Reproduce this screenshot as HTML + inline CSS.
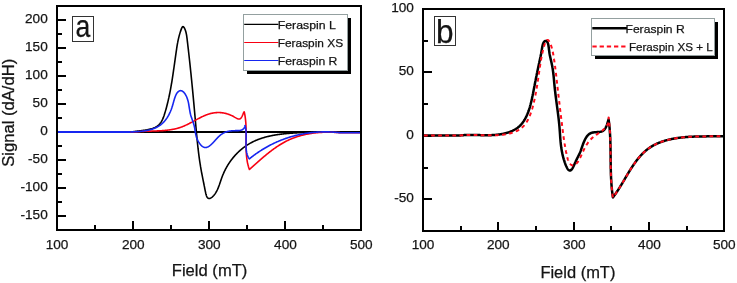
<!DOCTYPE html>
<html><head><meta charset="utf-8"><title>Feraspin EPR spectra</title><style>
html,body{margin:0;padding:0;background:#fff;width:737px;height:283px;overflow:hidden}
svg{display:block}
text{font-family:'Liberation Sans', 'DejaVu Sans', sans-serif;fill:#141414;stroke:#141414;stroke-width:0.25px}
</style></head><body>
<svg width="737" height="283" viewBox="0 0 737 283">
<rect x="0" y="0" width="737" height="283" fill="#fff"/>
<g shape-rendering="crispEdges">
<rect x="132" y="221" width="2" height="8" fill="#000"/>
<rect x="208" y="221" width="2" height="8" fill="#000"/>
<rect x="284" y="221" width="2" height="8" fill="#000"/>
<rect x="94" y="225" width="2" height="4" fill="#000"/>
<rect x="170" y="225" width="2" height="4" fill="#000"/>
<rect x="246" y="225" width="2" height="4" fill="#000"/>
<rect x="322" y="225" width="2" height="4" fill="#000"/>
<rect x="58" y="19" width="8" height="2" fill="#000"/>
<rect x="58" y="47" width="8" height="2" fill="#000"/>
<rect x="58" y="75" width="8" height="2" fill="#000"/>
<rect x="58" y="103" width="8" height="2" fill="#000"/>
<rect x="58" y="131" width="8" height="2" fill="#000"/>
<rect x="58" y="159" width="8" height="2" fill="#000"/>
<rect x="58" y="187" width="8" height="2" fill="#000"/>
<rect x="58" y="215" width="8" height="2" fill="#000"/>
<rect x="58" y="33" width="4" height="2" fill="#000"/>
<rect x="58" y="61" width="4" height="2" fill="#000"/>
<rect x="58" y="89" width="4" height="2" fill="#000"/>
<rect x="58" y="117" width="4" height="2" fill="#000"/>
<rect x="58" y="145" width="4" height="2" fill="#000"/>
<rect x="58" y="173" width="4" height="2" fill="#000"/>
<rect x="58" y="201" width="4" height="2" fill="#000"/>
</g>
<text x="47.74" y="23.10" font-size="13.6" text-anchor="end">200</text>
<text x="47.74" y="51.10" font-size="13.6" text-anchor="end">150</text>
<text x="47.74" y="79.10" font-size="13.6" text-anchor="end">100</text>
<text x="47.74" y="107.10" font-size="13.6" text-anchor="end">50</text>
<text x="47.72" y="135.10" font-size="13.6" text-anchor="end">0</text>
<text x="47.72" y="163.10" font-size="13.6" text-anchor="end">-50</text>
<text x="47.74" y="191.10" font-size="13.6" text-anchor="end">-100</text>
<text x="47.74" y="219.10" font-size="13.6" text-anchor="end">-150</text>
<text x="57.06" y="249.10" font-size="13.6" text-anchor="middle">100</text>
<text x="133.25" y="249.10" font-size="13.6" text-anchor="middle">200</text>
<text x="209.32" y="249.10" font-size="13.6" text-anchor="middle">300</text>
<text x="285.44" y="249.10" font-size="13.6" text-anchor="middle">400</text>
<text x="361.25" y="249.10" font-size="13.6" text-anchor="middle">500</text>
<rect x="58" y="131" width="302" height="2" fill="#000" shape-rendering="crispEdges"/>
<g fill="none" stroke-linejoin="round" stroke-linecap="round" stroke-width="1.6">
<path d="M58.00 132.00 L132.00 132.00 L132.41 131.91 L132.82 131.82 L133.25 131.74 L133.68 131.66 L134.13 131.58 L134.58 131.51 L135.04 131.44 L135.51 131.37 L135.99 131.30 L136.47 131.24 L136.96 131.17 L137.46 131.11 L137.96 131.05 L138.47 130.99 L138.98 130.93 L139.50 130.87 L140.02 130.81 L140.55 130.74 L141.07 130.68 L141.60 130.62 L142.14 130.55 L142.67 130.48 L143.21 130.41 L143.75 130.34 L144.28 130.26 L144.82 130.18 L145.36 130.10 L145.90 130.01 L146.43 129.92 L146.97 129.83 L147.50 129.73 L148.03 129.62 L148.56 129.51 L149.08 129.39 L149.60 129.27 L150.11 129.14 L150.63 129.01 L151.13 128.87 L151.63 128.72 L152.13 128.56 L152.62 128.39 L153.10 128.22 L153.57 128.04 L154.04 127.85 L154.50 127.65 L154.95 127.44 L155.39 127.22 L155.82 126.99 L156.24 126.75 L156.66 126.50 L157.06 126.24 L157.45 125.97 L157.83 125.69 L158.19 125.39 L158.55 125.08 L158.89 124.76 L159.22 124.43 L159.54 124.09 L159.85 123.74 L160.15 123.37 L160.43 123.00 L160.71 122.62 L160.98 122.22 L161.24 121.82 L161.48 121.41 L161.73 121.00 L161.96 120.57 L162.18 120.14 L162.40 119.70 L162.61 119.26 L162.81 118.81 L163.01 118.35 L163.20 117.89 L163.39 117.43 L163.56 116.96 L163.74 116.48 L163.91 116.01 L164.08 115.53 L164.24 115.04 L164.39 114.56 L164.55 114.07 L164.70 113.58 L164.85 113.09 L165.00 112.60 L165.14 112.11 L165.29 111.62 L165.43 111.13 L165.57 110.64 L165.71 110.15 L165.85 109.66 L165.99 109.17 L166.12 108.68 L166.26 108.19 L166.39 107.70 L166.52 107.21 L166.65 106.72 L166.78 106.24 L166.91 105.75 L167.03 105.26 L167.16 104.77 L167.28 104.28 L167.40 103.79 L167.52 103.30 L167.64 102.81 L167.76 102.32 L167.88 101.83 L167.99 101.35 L168.11 100.86 L168.22 100.37 L168.33 99.88 L168.44 99.39 L168.55 98.90 L168.66 98.41 L168.77 97.92 L168.88 97.44 L168.98 96.95 L169.09 96.46 L169.19 95.97 L169.30 95.48 L169.40 94.99 L169.50 94.50 L169.60 94.01 L169.70 93.53 L169.80 93.04 L169.89 92.55 L169.99 92.06 L170.08 91.57 L170.18 91.08 L170.27 90.59 L170.37 90.10 L170.46 89.61 L170.55 89.12 L170.64 88.63 L170.73 88.15 L170.82 87.66 L170.90 87.17 L170.99 86.68 L171.08 86.19 L171.16 85.70 L171.25 85.21 L171.33 84.72 L171.42 84.23 L171.50 83.74 L171.58 83.25 L171.66 82.76 L171.75 82.27 L171.83 81.78 L171.91 81.29 L171.99 80.80 L172.07 80.31 L172.14 79.82 L172.22 79.32 L172.30 78.83 L172.38 78.34 L172.45 77.85 L172.53 77.36 L172.60 76.87 L172.68 76.38 L172.75 75.88 L172.83 75.39 L172.90 74.90 L172.98 74.41 L173.05 73.91 L173.12 73.42 L173.19 72.93 L173.27 72.44 L173.34 71.94 L173.41 71.45 L173.48 70.96 L173.55 70.46 L173.62 69.97 L173.69 69.47 L173.77 68.98 L173.84 68.49 L173.91 67.99 L173.98 67.50 L174.05 67.00 L174.12 66.51 L174.19 66.01 L174.25 65.51 L174.32 65.02 L174.39 64.52 L174.46 64.03 L174.53 63.53 L174.60 63.03 L174.67 62.54 L174.74 62.04 L174.81 61.54 L174.88 61.04 L174.95 60.54 L175.02 60.05 L175.09 59.55 L175.16 59.05 L175.23 58.55 L175.30 58.05 L175.37 57.55 L175.44 57.05 L175.51 56.55 L175.58 56.05 L175.65 55.55 L175.72 55.05 L175.79 54.55 L175.86 54.04 L175.93 53.54 L176.01 53.04 L176.08 52.54 L176.15 52.03 L176.22 51.53 L176.30 51.03 L176.37 50.52 L176.45 50.02 L176.52 49.52 L176.60 49.01 L176.67 48.51 L176.75 48.00 L176.83 47.50 L176.91 46.99 L176.99 46.49 L177.08 45.98 L177.16 45.48 L177.25 44.97 L177.33 44.46 L177.42 43.96 L177.51 43.45 L177.61 42.95 L177.70 42.44 L177.80 41.94 L177.90 41.43 L178.00 40.93 L178.11 40.42 L178.21 39.92 L178.32 39.41 L178.43 38.91 L178.55 38.40 L178.67 37.90 L178.79 37.39 L178.91 36.89 L179.04 36.39 L179.17 35.88 L179.30 35.38 L179.44 34.88 L179.58 34.38 L179.73 33.87 L179.88 33.37 L180.03 32.87 L180.18 32.37 L180.34 31.87 L180.51 31.37 L180.68 30.87 L180.85 30.37 L181.03 29.88 L181.21 29.38 L181.40 28.88 L181.59 28.41 L181.79 27.95 L181.99 27.55 L182.20 27.19 L182.42 26.91 L182.64 26.71 L182.87 26.61 L183.10 26.61 L183.35 26.72 L183.59 26.92 L183.83 27.19 L184.08 27.54 L184.32 27.93 L184.55 28.36 L184.77 28.82 L184.98 29.29 L185.17 29.77 L185.35 30.26 L185.52 30.76 L185.68 31.26 L185.83 31.77 L185.97 32.28 L186.09 32.80 L186.21 33.32 L186.32 33.84 L186.43 34.37 L186.52 34.90 L186.61 35.43 L186.70 35.97 L186.78 36.51 L186.85 37.04 L186.92 37.58 L186.99 38.12 L187.06 38.66 L187.12 39.20 L187.19 39.74 L187.25 40.27 L187.31 40.81 L187.38 41.34 L187.44 41.87 L187.50 42.40 L187.56 42.93 L187.63 43.46 L187.69 43.99 L187.75 44.51 L187.81 45.03 L187.87 45.55 L187.93 46.08 L187.99 46.60 L188.05 47.11 L188.11 47.63 L188.17 48.15 L188.23 48.66 L188.29 49.17 L188.35 49.69 L188.40 50.20 L188.46 50.71 L188.52 51.22 L188.58 51.73 L188.64 52.23 L188.69 52.74 L188.75 53.25 L188.81 53.75 L188.86 54.25 L188.92 54.76 L188.98 55.26 L189.03 55.76 L189.09 56.26 L189.14 56.76 L189.20 57.26 L189.25 57.76 L189.31 58.26 L189.36 58.75 L189.42 59.25 L189.47 59.74 L189.53 60.24 L189.58 60.73 L189.63 61.23 L189.69 61.72 L189.74 62.21 L189.79 62.70 L189.85 63.20 L189.90 63.69 L189.95 64.18 L190.00 64.67 L190.06 65.16 L190.11 65.65 L190.16 66.14 L190.21 66.63 L190.26 67.12 L190.32 67.60 L190.37 68.09 L190.42 68.58 L190.47 69.07 L190.52 69.56 L190.57 70.04 L190.62 70.53 L190.67 71.02 L190.72 71.51 L190.78 71.99 L190.83 72.48 L190.88 72.97 L190.93 73.45 L190.98 73.94 L191.03 74.43 L191.08 74.92 L191.13 75.40 L191.18 75.89 L191.22 76.38 L191.27 76.87 L191.32 77.36 L191.37 77.84 L191.42 78.33 L191.47 78.82 L191.52 79.31 L191.57 79.80 L191.62 80.29 L191.67 80.78 L191.72 81.27 L191.77 81.76 L191.81 82.25 L191.86 82.75 L191.91 83.24 L191.96 83.73 L192.01 84.22 L192.06 84.72 L192.10 85.21 L192.15 85.71 L192.20 86.20 L192.25 86.70 L192.30 87.19 L192.35 87.69 L192.39 88.18 L192.44 88.68 L192.49 89.17 L192.54 89.67 L192.59 90.17 L192.63 90.67 L192.68 91.16 L192.73 91.66 L192.78 92.16 L192.82 92.66 L192.87 93.16 L192.92 93.65 L192.97 94.15 L193.01 94.65 L193.06 95.15 L193.11 95.65 L193.15 96.15 L193.20 96.65 L193.25 97.15 L193.29 97.65 L193.34 98.15 L193.39 98.65 L193.43 99.16 L193.48 99.66 L193.53 100.16 L193.57 100.66 L193.62 101.16 L193.67 101.66 L193.71 102.16 L193.76 102.67 L193.81 103.17 L193.85 103.67 L193.90 104.17 L193.94 104.68 L193.99 105.18 L194.04 105.68 L194.08 106.18 L194.13 106.69 L194.17 107.19 L194.22 107.69 L194.27 108.20 L194.31 108.70 L194.36 109.20 L194.40 109.71 L194.45 110.21 L194.49 110.71 L194.54 111.22 L194.58 111.72 L194.63 112.22 L194.67 112.73 L194.72 113.23 L194.76 113.73 L194.81 114.24 L194.85 114.74 L194.90 115.24 L194.94 115.74 L194.99 116.25 L195.03 116.75 L195.08 117.25 L195.12 117.76 L195.17 118.26 L195.21 118.76 L195.26 119.26 L195.30 119.77 L195.35 120.27 L195.39 120.77 L195.43 121.27 L195.48 121.78 L195.52 122.28 L195.57 122.78 L195.61 123.28 L195.66 123.78 L195.70 124.29 L195.74 124.79 L195.79 125.29 L195.83 125.79 L195.88 126.29 L195.92 126.79 L195.97 127.29 L196.01 127.79 L196.06 128.29 L196.10 128.80 L196.15 129.30 L196.19 129.80 L196.24 130.30 L196.28 130.80 L196.33 131.30 L196.37 131.80 L196.42 132.30 L196.46 132.80 L196.51 133.29 L196.56 133.79 L196.60 134.29 L196.65 134.79 L196.70 135.29 L196.75 135.79 L196.79 136.29 L196.84 136.79 L196.89 137.29 L196.94 137.78 L196.99 138.28 L197.03 138.78 L197.08 139.28 L197.13 139.78 L197.18 140.27 L197.23 140.77 L197.28 141.27 L197.33 141.77 L197.39 142.26 L197.44 142.76 L197.49 143.26 L197.54 143.75 L197.59 144.25 L197.65 144.75 L197.70 145.24 L197.76 145.74 L197.81 146.23 L197.86 146.73 L197.92 147.23 L197.98 147.72 L198.03 148.22 L198.09 148.71 L198.15 149.21 L198.20 149.70 L198.26 150.20 L198.32 150.69 L198.38 151.18 L198.44 151.68 L198.50 152.17 L198.56 152.67 L198.62 153.16 L198.68 153.65 L198.75 154.15 L198.81 154.64 L198.87 155.13 L198.94 155.63 L199.00 156.12 L199.07 156.61 L199.14 157.10 L199.20 157.60 L199.27 158.09 L199.34 158.58 L199.41 159.07 L199.48 159.56 L199.55 160.06 L199.62 160.55 L199.69 161.04 L199.76 161.53 L199.84 162.02 L199.91 162.51 L199.99 163.00 L200.06 163.49 L200.14 163.98 L200.22 164.47 L200.29 164.96 L200.37 165.45 L200.45 165.94 L200.53 166.43 L200.61 166.92 L200.70 167.40 L200.78 167.89 L200.86 168.38 L200.95 168.87 L201.03 169.36 L201.12 169.84 L201.21 170.33 L201.29 170.82 L201.38 171.31 L201.47 171.79 L201.56 172.28 L201.66 172.77 L201.75 173.25 L201.84 173.74 L201.94 174.23 L202.03 174.71 L202.12 175.20 L202.22 175.69 L202.32 176.17 L202.41 176.66 L202.51 177.15 L202.61 177.63 L202.70 178.12 L202.80 178.61 L202.90 179.10 L203.00 179.58 L203.10 180.07 L203.19 180.56 L203.29 181.05 L203.39 181.54 L203.49 182.03 L203.59 182.52 L203.69 183.01 L203.79 183.50 L203.88 183.99 L203.98 184.49 L204.08 184.98 L204.18 185.47 L204.27 185.97 L204.37 186.46 L204.47 186.96 L204.57 187.47 L204.67 187.99 L204.77 188.52 L204.88 189.07 L204.99 189.64 L205.11 190.22 L205.24 190.84 L205.37 191.48 L205.51 192.15 L205.66 192.83 L205.81 193.52 L205.99 194.20 L206.17 194.86 L206.37 195.49 L206.58 196.08 L206.81 196.61 L207.05 197.07 L207.32 197.45 L207.60 197.77 L207.89 198.03 L208.20 198.22 L208.52 198.36 L208.85 198.44 L209.19 198.46 L209.54 198.44 L209.89 198.37 L210.25 198.25 L210.61 198.10 L210.97 197.91 L211.34 197.69 L211.70 197.43 L212.06 197.15 L212.42 196.85 L212.77 196.52 L213.12 196.18 L213.46 195.82 L213.79 195.45 L214.11 195.07 L214.42 194.68 L214.72 194.29 L215.01 193.89 L215.29 193.48 L215.56 193.06 L215.83 192.64 L216.08 192.21 L216.33 191.77 L216.57 191.33 L216.81 190.89 L217.03 190.43 L217.25 189.98 L217.47 189.52 L217.68 189.05 L217.88 188.58 L218.08 188.10 L218.28 187.63 L218.47 187.15 L218.66 186.66 L218.84 186.17 L219.02 185.68 L219.20 185.19 L219.38 184.70 L219.55 184.20 L219.72 183.70 L219.89 183.20 L220.06 182.70 L220.23 182.20 L220.40 181.70 L220.57 181.20 L220.74 180.70 L220.91 180.20 L221.08 179.70 L221.25 179.20 L221.43 178.70 L221.60 178.20 L221.78 177.71 L221.96 177.22 L222.15 176.72 L222.34 176.24 L222.53 175.75 L222.72 175.27 L222.92 174.78 L223.12 174.30 L223.33 173.83 L223.53 173.35 L223.74 172.88 L223.96 172.41 L224.17 171.94 L224.39 171.47 L224.62 171.01 L224.84 170.55 L225.07 170.09 L225.30 169.64 L225.53 169.18 L225.77 168.73 L226.01 168.28 L226.25 167.83 L226.50 167.39 L226.75 166.95 L227.00 166.51 L227.26 166.07 L227.51 165.64 L227.77 165.21 L228.04 164.78 L228.30 164.35 L228.57 163.93 L228.85 163.50 L229.12 163.09 L229.40 162.67 L229.68 162.26 L229.96 161.84 L230.25 161.44 L230.54 161.03 L230.83 160.63 L231.12 160.23 L231.42 159.83 L231.72 159.43 L232.02 159.04 L232.33 158.65 L232.64 158.26 L232.95 157.88 L233.26 157.50 L233.58 157.12 L233.89 156.74 L234.22 156.37 L234.54 156.00 L234.87 155.63 L235.19 155.27 L235.53 154.91 L235.86 154.55 L236.20 154.19 L236.54 153.84 L236.88 153.49 L237.22 153.14 L237.57 152.79 L237.92 152.45 L238.27 152.11 L238.63 151.78 L238.98 151.45 L239.34 151.12 L239.71 150.79 L240.07 150.47 L240.44 150.14 L240.81 149.83 L241.18 149.51 L241.55 149.20 L241.93 148.89 L242.31 148.59 L242.69 148.29 L243.07 147.99 L243.46 147.69 L243.85 147.40 L244.24 147.11 L244.63 146.82 L245.03 146.54 L245.42 146.26 L245.82 145.98 L246.23 145.71 L246.63 145.44 L247.04 145.17 L247.45 144.91 L247.86 144.64 L248.27 144.39 L248.69 144.13 L249.11 143.88 L249.53 143.63 L249.95 143.39 L250.37 143.15 L250.80 142.91 L251.23 142.68 L251.66 142.45 L252.09 142.22 L252.53 142.00 L252.97 141.78 L253.41 141.56 L253.85 141.35 L254.29 141.14 L254.74 140.93 L255.18 140.73 L255.63 140.53 L256.09 140.33 L256.54 140.14 L257.00 139.95 L257.45 139.76 L257.91 139.58 L258.38 139.40 L258.84 139.23 L259.30 139.05 L259.77 138.88 L260.24 138.72 L260.71 138.55 L261.18 138.40 L261.66 138.24 L262.13 138.09 L262.61 137.93 L263.09 137.79 L263.57 137.64 L264.05 137.50 L264.53 137.36 L265.02 137.23 L265.50 137.09 L265.99 136.96 L266.48 136.84 L266.97 136.71 L267.46 136.59 L267.95 136.47 L268.44 136.35 L268.94 136.24 L269.43 136.13 L269.93 136.02 L270.43 135.91 L270.92 135.80 L271.42 135.70 L271.92 135.60 L272.42 135.51 L272.93 135.41 L273.43 135.32 L273.93 135.23 L274.44 135.14 L274.94 135.05 L275.45 134.97 L275.96 134.88 L276.46 134.80 L276.97 134.73 L277.48 134.65 L277.99 134.57 L278.50 134.50 L279.01 134.43 L279.52 134.36 L280.03 134.29 L280.54 134.23 L281.05 134.16 L281.56 134.10 L282.08 134.04 L282.59 133.98 L283.10 133.93 L283.61 133.87 L284.13 133.81 L284.64 133.76 L285.15 133.71 L285.66 133.66 L286.18 133.61 L286.69 133.56 L287.20 133.52 L287.71 133.47 L288.23 133.43 L288.74 133.38 L289.25 133.34 L289.76 133.30 L290.28 133.26 L290.79 133.22 L291.30 133.19 L291.81 133.15 L292.32 133.11 L292.83 133.08 L293.34 133.04 L293.85 133.01 L294.35 132.98 L294.86 132.95 L295.37 132.92 L295.87 132.88 L296.38 132.85 L296.89 132.83 L297.39 132.80 L297.89 132.77 L298.40 132.74 L298.90 132.71 L299.40 132.69 L299.90 132.66 L300.40 132.63 L300.89 132.61 L301.39 132.58 L301.89 132.55 L302.38 132.53 L302.88 132.50 L303.37 132.48 L303.86 132.45 L304.35 132.43 L304.84 132.40 L305.33 132.38 L305.81 132.35 L306.30 132.33 L306.78 132.30 L307.26 132.28 L307.74 132.25 L308.22 132.22 L308.70 132.20 L309.18 132.17 L309.65 132.14 L310.13 132.12 L310.60 132.09 L311.07 132.06 L311.53 132.03 L312.00 132.00 L360.00 132.00" stroke="#000"/>
<path d="M58.00 132.00 L135.00 132.00 L135.49 131.94 L135.98 131.89 L136.48 131.84 L136.97 131.79 L137.46 131.75 L137.96 131.70 L138.45 131.66 L138.95 131.62 L139.45 131.59 L139.95 131.55 L140.44 131.52 L140.94 131.49 L141.44 131.46 L141.94 131.43 L142.44 131.40 L142.94 131.38 L143.45 131.35 L143.95 131.33 L144.45 131.31 L144.95 131.29 L145.46 131.27 L145.96 131.25 L146.46 131.23 L146.97 131.22 L147.47 131.20 L147.98 131.19 L148.48 131.17 L148.99 131.16 L149.49 131.14 L150.00 131.13 L150.51 131.12 L151.01 131.10 L151.52 131.09 L152.03 131.07 L152.53 131.06 L153.04 131.05 L153.55 131.03 L154.05 131.02 L154.56 131.00 L155.07 130.98 L155.57 130.97 L156.08 130.95 L156.58 130.93 L157.09 130.91 L157.60 130.89 L158.10 130.87 L158.61 130.85 L159.12 130.82 L159.62 130.80 L160.13 130.77 L160.63 130.74 L161.14 130.71 L161.64 130.68 L162.15 130.65 L162.65 130.61 L163.15 130.58 L163.66 130.54 L164.16 130.50 L164.66 130.45 L165.16 130.41 L165.66 130.36 L166.16 130.31 L166.67 130.26 L167.16 130.20 L167.66 130.14 L168.16 130.08 L168.66 130.02 L169.16 129.95 L169.66 129.88 L170.15 129.81 L170.65 129.73 L171.14 129.65 L171.64 129.57 L172.13 129.48 L172.62 129.39 L173.11 129.30 L173.60 129.20 L174.09 129.10 L174.58 128.99 L175.07 128.89 L175.56 128.77 L176.04 128.66 L176.53 128.53 L177.01 128.41 L177.50 128.28 L177.98 128.14 L178.46 128.00 L178.94 127.86 L179.42 127.71 L179.90 127.56 L180.38 127.40 L180.85 127.24 L181.33 127.07 L181.80 126.90 L182.27 126.72 L182.74 126.53 L183.21 126.35 L183.68 126.15 L184.15 125.95 L184.62 125.75 L185.08 125.55 L185.55 125.34 L186.01 125.12 L186.47 124.90 L186.94 124.68 L187.40 124.46 L187.86 124.23 L188.32 124.00 L188.78 123.77 L189.24 123.54 L189.69 123.30 L190.15 123.06 L190.61 122.82 L191.06 122.58 L191.52 122.34 L191.97 122.09 L192.43 121.85 L192.88 121.60 L193.33 121.35 L193.79 121.11 L194.24 120.86 L194.69 120.61 L195.15 120.36 L195.60 120.12 L196.05 119.87 L196.50 119.63 L196.96 119.38 L197.41 119.14 L197.86 118.90 L198.31 118.66 L198.77 118.42 L199.22 118.18 L199.67 117.95 L200.12 117.72 L200.58 117.49 L201.03 117.26 L201.48 117.04 L201.94 116.82 L202.39 116.61 L202.85 116.39 L203.30 116.18 L203.76 115.98 L204.21 115.78 L204.67 115.58 L205.13 115.39 L205.59 115.20 L206.05 115.02 L206.50 114.84 L206.96 114.67 L207.43 114.51 L207.89 114.34 L208.35 114.19 L208.81 114.04 L209.28 113.90 L209.74 113.77 L210.21 113.64 L210.68 113.52 L211.15 113.40 L211.61 113.29 L212.08 113.19 L212.56 113.10 L213.03 113.01 L213.50 112.93 L213.97 112.86 L214.45 112.80 L214.92 112.74 L215.40 112.69 L215.87 112.65 L216.35 112.61 L216.83 112.58 L217.31 112.56 L217.78 112.55 L218.26 112.54 L218.74 112.55 L219.22 112.56 L219.70 112.57 L220.18 112.60 L220.66 112.63 L221.14 112.67 L221.62 112.72 L222.10 112.78 L222.58 112.84 L223.06 112.91 L223.54 112.99 L224.02 113.08 L224.50 113.18 L224.98 113.28 L225.46 113.39 L225.94 113.51 L226.42 113.64 L226.90 113.78 L227.38 113.92 L227.86 114.07 L228.34 114.23 L228.81 114.40 L229.29 114.58 L229.77 114.77 L230.24 114.96 L230.72 115.17 L231.19 115.38 L231.67 115.60 L232.14 115.83 L232.61 116.06 L233.09 116.31 L233.56 116.56 L234.03 116.83 L234.50 117.10 L234.96 117.38 L235.43 117.65 L235.89 117.92 L236.35 118.17 L236.80 118.41 L237.24 118.61 L237.68 118.79 L238.11 118.92 L238.53 119.01 L238.94 119.05 L239.34 119.04 L239.72 118.96 L240.10 118.80 L240.46 118.58 L240.80 118.27 L241.13 117.87 L241.44 117.41 L241.74 116.90 L242.03 116.34 L242.31 115.75 L242.57 115.15 L242.83 114.56 L243.07 113.97 L243.31 113.42 L243.54 112.91 L243.77 112.47 L243.98 112.09 L244.20 111.80 L244.31 112.28 L244.42 112.76 L244.52 113.24 L244.62 113.73 L244.72 114.21 L244.81 114.70 L244.90 115.19 L244.98 115.67 L245.06 116.16 L245.14 116.66 L245.21 117.15 L245.28 117.64 L245.34 118.14 L245.40 118.63 L245.46 119.13 L245.52 119.62 L245.57 120.12 L245.62 120.62 L245.66 121.12 L245.71 121.62 L245.75 122.12 L245.79 122.63 L245.82 123.13 L245.85 123.64 L245.88 124.14 L245.91 124.65 L245.94 125.15 L245.96 125.66 L245.98 126.17 L246.00 126.67 L246.02 127.18 L246.03 127.69 L246.04 128.20 L246.06 128.71 L246.07 129.22 L246.08 129.73 L246.08 130.25 L246.09 130.76 L246.09 131.27 L246.10 131.78 L246.10 132.29 L246.10 132.81 L246.10 133.32 L246.10 133.83 L246.10 134.35 L246.10 134.86 L246.09 135.38 L246.09 135.89 L246.09 136.40 L246.08 136.92 L246.08 137.43 L246.08 137.94 L246.07 138.46 L246.07 138.97 L246.06 139.49 L246.06 140.00 L246.06 140.51 L246.05 141.03 L246.05 141.54 L246.05 142.05 L246.05 142.56 L246.05 143.08 L246.05 143.59 L246.05 144.10 L246.05 144.61 L246.05 145.12 L246.05 145.63 L246.06 146.14 L246.07 146.65 L246.07 147.16 L246.08 147.67 L246.09 148.18 L246.11 148.68 L246.12 149.19 L246.14 149.69 L246.15 150.20 L246.17 150.70 L246.20 151.21 L246.22 151.71 L246.25 152.21 L246.28 152.71 L246.31 153.21 L246.34 153.71 L246.38 154.21 L246.41 154.71 L246.46 155.20 L246.50 155.70 L246.55 156.19 L246.60 156.69 L246.65 157.18 L246.71 157.67 L246.77 158.16 L246.83 158.65 L246.90 159.14 L246.97 159.62 L247.04 160.11 L247.12 160.59 L247.20 161.07 L247.28 161.55 L247.37 162.03 L247.47 162.51 L247.56 162.99 L247.66 163.46 L247.77 163.94 L247.88 164.41 L247.99 164.88 L248.11 165.35 L248.24 165.82 L248.36 166.29 L248.50 166.75 L248.63 167.21 L248.78 167.67 L248.92 168.13 L249.08 168.59 L249.24 169.05 L249.40 169.50 L249.77 169.17 L250.14 168.84 L250.51 168.51 L250.88 168.18 L251.25 167.84 L251.63 167.51 L252.00 167.18 L252.37 166.84 L252.74 166.51 L253.12 166.17 L253.49 165.84 L253.86 165.50 L254.24 165.16 L254.61 164.83 L254.99 164.49 L255.36 164.16 L255.74 163.82 L256.12 163.48 L256.49 163.15 L256.87 162.81 L257.25 162.48 L257.63 162.14 L258.01 161.80 L258.39 161.47 L258.77 161.13 L259.15 160.80 L259.53 160.46 L259.91 160.13 L260.29 159.79 L260.68 159.46 L261.06 159.13 L261.44 158.79 L261.83 158.46 L262.21 158.13 L262.60 157.80 L262.99 157.47 L263.37 157.14 L263.76 156.81 L264.15 156.48 L264.54 156.16 L264.93 155.83 L265.32 155.51 L265.71 155.18 L266.11 154.86 L266.50 154.54 L266.89 154.22 L267.29 153.90 L267.68 153.58 L268.08 153.26 L268.48 152.94 L268.87 152.63 L269.27 152.31 L269.67 152.00 L270.07 151.69 L270.47 151.38 L270.88 151.07 L271.28 150.77 L271.68 150.46 L272.09 150.16 L272.49 149.86 L272.90 149.56 L273.31 149.26 L273.72 148.96 L274.13 148.67 L274.54 148.37 L274.95 148.08 L275.36 147.79 L275.77 147.51 L276.19 147.22 L276.61 146.94 L277.02 146.66 L277.44 146.38 L277.86 146.10 L278.28 145.83 L278.70 145.56 L279.12 145.29 L279.54 145.02 L279.97 144.75 L280.39 144.49 L280.82 144.23 L281.25 143.97 L281.68 143.71 L282.11 143.46 L282.54 143.21 L282.97 142.96 L283.40 142.72 L283.84 142.48 L284.27 142.24 L284.71 142.00 L285.15 141.76 L285.59 141.53 L286.03 141.30 L286.47 141.08 L286.92 140.86 L287.36 140.64 L287.81 140.42 L288.26 140.21 L288.70 140.00 L289.16 139.79 L289.61 139.59 L290.06 139.39 L290.51 139.19 L290.97 138.99 L291.43 138.80 L291.88 138.62 L292.34 138.43 L292.80 138.25 L293.26 138.07 L293.73 137.89 L294.19 137.72 L294.66 137.55 L295.12 137.38 L295.59 137.22 L296.06 137.06 L296.53 136.90 L297.00 136.74 L297.47 136.59 L297.94 136.44 L298.42 136.29 L298.89 136.15 L299.37 136.01 L299.84 135.87 L300.32 135.73 L300.80 135.60 L301.28 135.47 L301.76 135.34 L302.24 135.22 L302.73 135.10 L303.21 134.98 L303.69 134.86 L304.18 134.75 L304.66 134.63 L305.15 134.53 L305.64 134.42 L306.13 134.32 L306.62 134.22 L307.11 134.12 L307.60 134.02 L308.09 133.93 L308.58 133.84 L309.08 133.75 L309.57 133.67 L310.07 133.59 L310.56 133.51 L311.06 133.43 L311.55 133.35 L312.05 133.28 L312.55 133.21 L313.05 133.14 L313.55 133.08 L314.05 133.02 L314.55 132.96 L315.05 132.90 L315.55 132.84 L316.05 132.79 L316.55 132.74 L317.06 132.69 L317.56 132.64 L318.06 132.60 L318.57 132.56 L319.07 132.52 L319.58 132.48 L320.09 132.45 L320.59 132.42 L321.10 132.38 L321.61 132.36 L322.11 132.33 L322.62 132.31 L323.13 132.29 L323.64 132.27 L324.15 132.25 L324.66 132.23 L325.17 132.22 L325.68 132.21 L326.19 132.20 L326.70 132.19 L327.21 132.19 L327.72 132.19 L328.23 132.19 L328.74 132.19 L329.25 132.19 L329.76 132.20 L330.27 132.20 L330.78 132.21 L331.30 132.22 L331.81 132.24 L332.32 132.25 L332.83 132.27 L333.34 132.29 L333.86 132.31 L334.37 132.33 L334.88 132.36 L335.39 132.38 L335.90 132.41 L336.42 132.44 L336.93 132.47 L337.44 132.51 L337.95 132.54 L338.46 132.58 L338.98 132.62 L339.49 132.66 L340.00 132.70 L360.00 132.70" stroke="#f80012"/>
<path d="M58.00 132.00 L128.00 132.00 L128.45 131.99 L128.91 131.98 L129.37 131.97 L129.83 131.95 L130.30 131.94 L130.78 131.93 L131.26 131.91 L131.74 131.90 L132.23 131.88 L132.72 131.87 L133.22 131.85 L133.72 131.83 L134.22 131.80 L134.73 131.78 L135.24 131.76 L135.75 131.73 L136.26 131.70 L136.78 131.67 L137.29 131.63 L137.81 131.60 L138.33 131.56 L138.85 131.52 L139.38 131.47 L139.90 131.43 L140.43 131.38 L140.95 131.32 L141.48 131.27 L142.00 131.21 L142.53 131.14 L143.05 131.08 L143.57 131.01 L144.10 130.93 L144.62 130.85 L145.14 130.77 L145.66 130.68 L146.18 130.59 L146.69 130.50 L147.21 130.40 L147.72 130.30 L148.23 130.19 L148.73 130.07 L149.24 129.95 L149.74 129.83 L150.23 129.70 L150.72 129.57 L151.21 129.43 L151.70 129.28 L152.18 129.13 L152.66 128.97 L153.13 128.81 L153.59 128.64 L154.05 128.46 L154.51 128.28 L154.96 128.09 L155.41 127.90 L155.84 127.70 L156.28 127.49 L156.71 127.28 L157.13 127.05 L157.54 126.83 L157.95 126.59 L158.36 126.35 L158.76 126.11 L159.15 125.85 L159.54 125.59 L159.92 125.33 L160.30 125.05 L160.67 124.77 L161.04 124.49 L161.40 124.20 L161.76 123.90 L162.11 123.59 L162.45 123.28 L162.79 122.96 L163.13 122.64 L163.46 122.31 L163.79 121.97 L164.11 121.63 L164.42 121.28 L164.73 120.92 L165.04 120.56 L165.34 120.19 L165.64 119.81 L165.93 119.43 L166.22 119.04 L166.50 118.65 L166.78 118.25 L167.05 117.84 L167.32 117.43 L167.58 117.01 L167.84 116.58 L168.10 116.15 L168.35 115.71 L168.60 115.27 L168.84 114.82 L169.08 114.36 L169.31 113.90 L169.54 113.43 L169.77 112.96 L169.99 112.47 L170.21 111.99 L170.42 111.49 L170.63 110.99 L170.83 110.49 L171.04 109.98 L171.23 109.46 L171.43 108.93 L171.62 108.40 L171.81 107.87 L171.99 107.32 L172.17 106.77 L172.34 106.22 L172.52 105.66 L172.69 105.09 L172.85 104.52 L173.02 103.95 L173.18 103.37 L173.34 102.79 L173.50 102.22 L173.66 101.64 L173.82 101.07 L173.98 100.50 L174.15 99.93 L174.32 99.37 L174.49 98.82 L174.66 98.27 L174.83 97.74 L175.02 97.21 L175.20 96.70 L175.39 96.20 L175.59 95.71 L175.80 95.24 L176.01 94.78 L176.23 94.34 L176.46 93.92 L176.70 93.52 L176.94 93.14 L177.20 92.78 L177.47 92.44 L177.75 92.13 L178.04 91.84 L178.34 91.58 L178.66 91.35 L178.99 91.15 L179.33 90.97 L179.69 90.83 L180.05 90.73 L180.42 90.67 L180.79 90.65 L181.16 90.69 L181.53 90.77 L181.89 90.91 L182.25 91.08 L182.61 91.30 L182.96 91.56 L183.31 91.85 L183.64 92.17 L183.97 92.52 L184.29 92.90 L184.61 93.30 L184.91 93.71 L185.20 94.15 L185.48 94.60 L185.75 95.06 L186.00 95.52 L186.24 95.99 L186.47 96.47 L186.68 96.95 L186.88 97.43 L187.07 97.92 L187.25 98.41 L187.42 98.90 L187.58 99.40 L187.73 99.90 L187.88 100.40 L188.01 100.90 L188.14 101.41 L188.26 101.92 L188.37 102.43 L188.48 102.94 L188.58 103.46 L188.68 103.97 L188.77 104.49 L188.86 105.01 L188.94 105.52 L189.03 106.04 L189.11 106.56 L189.19 107.08 L189.27 107.60 L189.35 108.12 L189.43 108.63 L189.51 109.15 L189.60 109.66 L189.68 110.18 L189.77 110.69 L189.86 111.20 L189.95 111.71 L190.05 112.22 L190.15 112.72 L190.26 113.22 L190.38 113.72 L190.50 114.22 L190.63 114.71 L190.76 115.21 L190.90 115.69 L191.05 116.18 L191.20 116.66 L191.35 117.14 L191.51 117.62 L191.67 118.10 L191.83 118.57 L192.00 119.04 L192.17 119.52 L192.33 119.99 L192.50 120.46 L192.66 120.92 L192.83 121.39 L192.99 121.86 L193.15 122.32 L193.30 122.79 L193.46 123.26 L193.60 123.72 L193.74 124.19 L193.88 124.65 L194.01 125.12 L194.13 125.59 L194.25 126.06 L194.36 126.53 L194.46 127.00 L194.55 127.47 L194.64 127.94 L194.73 128.42 L194.81 128.89 L194.89 129.37 L194.96 129.85 L195.04 130.32 L195.11 130.80 L195.19 131.29 L195.27 131.77 L195.35 132.25 L195.43 132.74 L195.52 133.22 L195.61 133.71 L195.71 134.20 L195.82 134.69 L195.93 135.18 L196.05 135.67 L196.18 136.17 L196.32 136.66 L196.47 137.16 L196.64 137.66 L196.81 138.16 L197.00 138.66 L197.21 139.16 L197.43 139.67 L197.67 140.17 L197.92 140.68 L198.19 141.19 L198.47 141.69 L198.77 142.19 L199.09 142.68 L199.41 143.17 L199.75 143.64 L200.10 144.09 L200.45 144.53 L200.82 144.94 L201.19 145.34 L201.56 145.70 L201.94 146.04 L202.33 146.35 L202.71 146.63 L203.10 146.87 L203.49 147.07 L203.88 147.23 L204.26 147.35 L204.65 147.44 L205.04 147.49 L205.42 147.51 L205.81 147.49 L206.19 147.45 L206.58 147.37 L206.96 147.26 L207.35 147.12 L207.73 146.96 L208.12 146.77 L208.50 146.56 L208.88 146.32 L209.27 146.07 L209.65 145.79 L210.04 145.49 L210.42 145.18 L210.80 144.85 L211.19 144.50 L211.57 144.14 L211.96 143.77 L212.34 143.39 L212.73 143.00 L213.11 142.59 L213.50 142.18 L213.89 141.77 L214.27 141.35 L214.66 140.92 L215.05 140.49 L215.44 140.07 L215.83 139.64 L216.22 139.21 L216.61 138.79 L217.00 138.37 L217.39 137.95 L217.79 137.55 L218.18 137.15 L218.57 136.75 L218.97 136.37 L219.37 136.00 L219.77 135.65 L220.16 135.31 L220.56 134.98 L220.96 134.67 L221.37 134.38 L221.77 134.09 L222.18 133.83 L222.58 133.58 L222.99 133.34 L223.40 133.11 L223.82 132.90 L224.23 132.70 L224.65 132.51 L225.07 132.34 L225.49 132.17 L225.92 132.02 L226.35 131.88 L226.78 131.74 L227.21 131.62 L227.65 131.51 L228.09 131.40 L228.53 131.31 L228.98 131.22 L229.44 131.14 L229.89 131.07 L230.35 131.00 L230.82 130.95 L231.28 130.89 L231.76 130.85 L232.24 130.81 L232.72 130.77 L233.21 130.75 L233.70 130.72 L234.19 130.70 L234.70 130.68 L235.21 130.67 L235.72 130.66 L236.24 130.65 L236.76 130.64 L237.28 130.63 L237.81 130.61 L238.33 130.58 L238.85 130.55 L239.36 130.50 L239.86 130.43 L240.35 130.34 L240.83 130.23 L241.29 130.09 L241.74 129.93 L242.17 129.74 L242.58 129.51 L242.96 129.25 L243.32 128.94 L243.66 128.60 L243.97 128.21 L244.24 127.77 L244.49 127.29 L244.69 126.75 L244.87 126.15 L245.00 125.50 L245.13 125.96 L245.25 126.42 L245.36 126.89 L245.46 127.36 L245.55 127.83 L245.64 128.32 L245.71 128.80 L245.78 129.29 L245.84 129.79 L245.89 130.28 L245.94 130.79 L245.98 131.29 L246.02 131.80 L246.05 132.31 L246.07 132.82 L246.09 133.34 L246.11 133.86 L246.12 134.38 L246.12 134.90 L246.13 135.43 L246.13 135.96 L246.13 136.48 L246.12 137.01 L246.12 137.54 L246.11 138.08 L246.10 138.61 L246.09 139.14 L246.08 139.67 L246.07 140.21 L246.06 140.74 L246.05 141.27 L246.04 141.80 L246.03 142.33 L246.02 142.86 L246.02 143.39 L246.02 143.92 L246.02 144.45 L246.02 144.97 L246.03 145.49 L246.04 146.01 L246.05 146.53 L246.07 147.05 L246.09 147.56 L246.12 148.07 L246.16 148.57 L246.20 149.08 L246.25 149.58 L246.30 150.07 L246.36 150.56 L246.43 151.05 L246.50 151.54 L246.59 152.01 L246.68 152.49 L246.78 152.96 L246.89 153.42 L247.01 153.88 L247.13 154.33 L247.27 154.78 L247.42 155.22 L247.58 155.66 L247.75 156.09 L247.94 156.51 L248.13 156.93 L248.34 157.34 L248.56 157.74 L248.79 158.13 L249.04 158.52 L249.30 158.90 L249.70 158.58 L250.09 158.26 L250.49 157.94 L250.89 157.63 L251.29 157.31 L251.70 157.00 L252.10 156.69 L252.50 156.38 L252.91 156.07 L253.32 155.77 L253.72 155.46 L254.13 155.16 L254.54 154.86 L254.95 154.56 L255.36 154.27 L255.78 153.97 L256.19 153.68 L256.60 153.39 L257.02 153.10 L257.44 152.81 L257.85 152.53 L258.27 152.24 L258.69 151.96 L259.11 151.68 L259.53 151.40 L259.95 151.13 L260.38 150.85 L260.80 150.58 L261.23 150.31 L261.65 150.04 L262.08 149.77 L262.51 149.51 L262.94 149.24 L263.37 148.98 L263.80 148.72 L264.23 148.46 L264.66 148.21 L265.10 147.95 L265.53 147.70 L265.97 147.45 L266.40 147.20 L266.84 146.96 L267.28 146.71 L267.72 146.47 L268.16 146.23 L268.60 145.99 L269.04 145.75 L269.48 145.52 L269.93 145.29 L270.37 145.06 L270.81 144.83 L271.26 144.60 L271.71 144.37 L272.15 144.15 L272.60 143.93 L273.05 143.71 L273.50 143.49 L273.95 143.28 L274.41 143.06 L274.86 142.85 L275.31 142.64 L275.76 142.43 L276.22 142.23 L276.68 142.02 L277.13 141.82 L277.59 141.62 L278.05 141.42 L278.51 141.23 L278.96 141.03 L279.43 140.84 L279.89 140.65 L280.35 140.47 L280.81 140.28 L281.27 140.10 L281.74 139.91 L282.20 139.73 L282.67 139.56 L283.13 139.38 L283.60 139.21 L284.07 139.03 L284.54 138.87 L285.00 138.70 L285.47 138.53 L285.94 138.37 L286.42 138.21 L286.89 138.05 L287.36 137.89 L287.83 137.73 L288.31 137.58 L288.78 137.43 L289.26 137.28 L289.73 137.13 L290.21 136.99 L290.68 136.84 L291.16 136.70 L291.64 136.56 L292.12 136.43 L292.60 136.29 L293.08 136.16 L293.56 136.03 L294.04 135.90 L294.52 135.77 L295.00 135.65 L295.49 135.52 L295.97 135.40 L296.45 135.28 L296.94 135.17 L297.42 135.05 L297.91 134.94 L298.39 134.83 L298.88 134.72 L299.37 134.61 L299.85 134.51 L300.34 134.41 L300.83 134.31 L301.32 134.21 L301.81 134.11 L302.30 134.02 L302.79 133.92 L303.28 133.83 L303.77 133.74 L304.27 133.66 L304.76 133.57 L305.25 133.49 L305.74 133.41 L306.24 133.33 L306.73 133.26 L307.23 133.18 L307.72 133.11 L308.22 133.04 L308.71 132.97 L309.21 132.91 L309.71 132.84 L310.20 132.78 L310.70 132.72 L311.20 132.66 L311.70 132.61 L312.19 132.55 L312.69 132.50 L313.19 132.45 L313.69 132.40 L314.19 132.36 L314.69 132.31 L315.19 132.27 L315.69 132.23 L316.19 132.19 L316.70 132.16 L317.20 132.12 L317.70 132.09 L318.20 132.06 L318.70 132.04 L319.21 132.01 L319.71 131.99 L320.21 131.96 L320.72 131.94 L321.22 131.93 L321.73 131.91 L322.23 131.90 L322.74 131.89 L323.24 131.88 L323.75 131.87 L324.25 131.86 L324.76 131.86 L325.26 131.86 L325.77 131.86 L326.28 131.86 L326.78 131.87 L327.29 131.87 L327.80 131.88 L328.30 131.89 L328.81 131.91 L329.32 131.92 L329.83 131.94 L330.33 131.96 L330.84 131.98 L331.35 132.00 L331.86 132.03 L332.37 132.05 L332.87 132.08 L333.38 132.11 L333.89 132.15 L334.40 132.18 L334.91 132.22 L335.42 132.26 L335.93 132.30 L336.43 132.34 L336.94 132.39 L337.45 132.43 L337.96 132.48 L338.47 132.53 L338.98 132.59 L339.49 132.64 L340.00 132.70 L360.00 132.70" stroke="#1626f0"/>
<rect x="58" y="131" width="72" height="2" fill="#1626f0" shape-rendering="crispEdges"/>
</g>
<g shape-rendering="crispEdges"><rect x="57" y="6" width="304" height="224" fill="none" stroke="#000" stroke-width="2"/></g>
<rect x="72.5" y="16.5" width="21" height="25" fill="#fff" stroke="#333" stroke-width="1" shape-rendering="crispEdges"/>
<g transform="translate(0,0)"><text x="75.49" y="37.40" font-size="31.00" textLength="14.83" lengthAdjust="spacingAndGlyphs">a</text></g>
<rect x="247" y="18" width="104" height="55.5" fill="#000" shape-rendering="crispEdges"/>
<rect x="243.5" y="14.5" width="104.3" height="55.5" fill="#fff" stroke="#94a0a0" stroke-width="1" shape-rendering="crispEdges"/>
<line x1="244.2" y1="24.4" x2="278.4" y2="24.4" stroke="#000" stroke-width="1.15"/>
<line x1="244.2" y1="42.5" x2="278.4" y2="42.5" stroke="#f80012" stroke-width="1.15"/>
<line x1="244.2" y1="60.5" x2="278.4" y2="60.5" stroke="#1626f0" stroke-width="1.15"/>
<text x="277.72" y="28.90" font-size="11.60" textLength="58.15" lengthAdjust="spacingAndGlyphs">Feraspin L</text>
<text x="277.76" y="47.10" font-size="11.60" textLength="65.33" lengthAdjust="spacingAndGlyphs">Feraspin XS</text>
<text x="277.73" y="65.10" font-size="11.60" textLength="59.66" lengthAdjust="spacingAndGlyphs">Feraspin R</text>
<text x="171.80" y="275.70" font-size="16.00" textLength="75.57" lengthAdjust="spacingAndGlyphs">Field (mT)</text>
<text transform="translate(14.4,166.78) rotate(-90)" x="0" y="0" font-size="16" textLength="108.00" lengthAdjust="spacingAndGlyphs">Signal (dA/dH)</text>
<g shape-rendering="crispEdges">
<rect x="497" y="222" width="2" height="8" fill="#000"/>
<rect x="573" y="222" width="2" height="8" fill="#000"/>
<rect x="648" y="222" width="2" height="8" fill="#000"/>
<rect x="460" y="226" width="2" height="4" fill="#000"/>
<rect x="535" y="226" width="2" height="4" fill="#000"/>
<rect x="610" y="226" width="2" height="4" fill="#000"/>
<rect x="686" y="226" width="2" height="4" fill="#000"/>
<rect x="424" y="71" width="8" height="2" fill="#000"/>
<rect x="424" y="135" width="8" height="2" fill="#000"/>
<rect x="424" y="198" width="8" height="2" fill="#000"/>
<rect x="424" y="40" width="4" height="2" fill="#000"/>
<rect x="424" y="103" width="4" height="2" fill="#000"/>
<rect x="424" y="167" width="4" height="2" fill="#000"/>
</g>
<text x="413.84" y="12.00" font-size="13.6" text-anchor="end">100</text>
<text x="413.84" y="75.40" font-size="13.6" text-anchor="end">50</text>
<text x="413.82" y="138.90" font-size="13.6" text-anchor="end">0</text>
<text x="413.82" y="202.20" font-size="13.6" text-anchor="end">-50</text>
<text x="423.06" y="249.40" font-size="13.6" text-anchor="middle">100</text>
<text x="498.25" y="249.40" font-size="13.6" text-anchor="middle">200</text>
<text x="574.32" y="249.40" font-size="13.6" text-anchor="middle">300</text>
<text x="649.44" y="249.40" font-size="13.6" text-anchor="middle">400</text>
<text x="724.25" y="249.40" font-size="13.6" text-anchor="middle">500</text>
<g fill="none" stroke-linejoin="round">
<path d="M424.00 135.60 L460.00 135.50 L460.53 135.44 L461.05 135.38 L461.57 135.33 L462.09 135.28 L462.61 135.23 L463.12 135.19 L463.64 135.15 L464.15 135.12 L464.66 135.08 L465.17 135.06 L465.67 135.03 L466.18 135.01 L466.68 134.99 L467.18 134.97 L467.68 134.96 L468.18 134.94 L468.68 134.93 L469.17 134.93 L469.67 134.92 L470.16 134.92 L470.66 134.92 L471.15 134.92 L471.64 134.92 L472.13 134.92 L472.62 134.93 L473.11 134.94 L473.60 134.94 L474.09 134.95 L474.58 134.96 L475.06 134.97 L475.55 134.99 L476.04 135.00 L476.52 135.01 L477.01 135.03 L477.50 135.04 L477.98 135.05 L478.47 135.07 L478.96 135.08 L479.44 135.10 L479.93 135.11 L480.42 135.13 L480.91 135.14 L481.40 135.15 L481.89 135.17 L482.38 135.18 L482.87 135.19 L483.36 135.20 L483.85 135.21 L484.34 135.22 L484.84 135.22 L485.33 135.23 L485.83 135.23 L486.33 135.23 L486.82 135.23 L487.32 135.23 L487.83 135.23 L488.33 135.22 L488.83 135.22 L489.34 135.21 L489.85 135.19 L490.36 135.18 L490.87 135.16 L491.38 135.14 L491.89 135.12 L492.41 135.09 L492.92 135.06 L493.44 135.03 L493.96 135.00 L494.48 134.96 L495.00 134.92 L495.51 134.87 L496.03 134.82 L496.55 134.77 L497.07 134.72 L497.59 134.66 L498.11 134.60 L498.63 134.53 L499.15 134.46 L499.66 134.39 L500.18 134.31 L500.69 134.23 L501.21 134.15 L501.72 134.06 L502.23 133.96 L502.74 133.86 L503.24 133.76 L503.75 133.65 L504.25 133.54 L504.75 133.43 L505.25 133.30 L505.75 133.18 L506.24 133.05 L506.73 132.91 L507.22 132.77 L507.71 132.62 L508.19 132.47 L508.67 132.32 L509.14 132.16 L509.61 131.99 L510.08 131.82 L510.54 131.64 L511.00 131.45 L511.46 131.26 L511.91 131.07 L512.36 130.87 L512.80 130.66 L513.24 130.45 L513.67 130.23 L514.10 130.00 L514.52 129.77 L514.94 129.53 L515.35 129.29 L515.76 129.04 L516.16 128.78 L516.55 128.52 L516.94 128.25 L517.33 127.97 L517.70 127.69 L518.07 127.39 L518.44 127.10 L518.79 126.79 L519.15 126.48 L519.49 126.16 L519.83 125.84 L520.16 125.51 L520.49 125.17 L520.81 124.83 L521.13 124.48 L521.44 124.12 L521.74 123.76 L522.04 123.40 L522.34 123.03 L522.63 122.65 L522.91 122.27 L523.19 121.88 L523.46 121.49 L523.73 121.09 L523.99 120.68 L524.25 120.28 L524.50 119.86 L524.75 119.45 L524.99 119.02 L525.23 118.60 L525.47 118.17 L525.70 117.73 L525.92 117.29 L526.14 116.85 L526.36 116.40 L526.57 115.95 L526.78 115.50 L526.98 115.04 L527.19 114.58 L527.38 114.12 L527.57 113.65 L527.76 113.18 L527.95 112.70 L528.13 112.23 L528.31 111.75 L528.48 111.26 L528.66 110.78 L528.82 110.29 L528.99 109.80 L529.15 109.31 L529.31 108.81 L529.46 108.31 L529.62 107.82 L529.77 107.31 L529.91 106.81 L530.06 106.31 L530.20 105.80 L530.34 105.29 L530.48 104.79 L530.61 104.28 L530.74 103.76 L530.87 103.25 L531.00 102.74 L531.13 102.22 L531.25 101.71 L531.37 101.19 L531.49 100.68 L531.61 100.16 L531.72 99.64 L531.84 99.13 L531.95 98.61 L532.06 98.09 L532.17 97.57 L532.28 97.06 L532.39 96.54 L532.49 96.02 L532.60 95.51 L532.70 94.99 L532.80 94.48 L532.91 93.97 L533.01 93.45 L533.11 92.94 L533.21 92.43 L533.30 91.92 L533.40 91.41 L533.50 90.91 L533.60 90.40 L533.69 89.90 L533.79 89.40 L533.89 88.90 L533.98 88.40 L534.08 87.90 L534.18 87.41 L534.27 86.92 L534.37 86.42 L534.46 85.93 L534.56 85.45 L534.65 84.96 L534.75 84.47 L534.84 83.99 L534.94 83.51 L535.03 83.03 L535.13 82.55 L535.22 82.07 L535.32 81.59 L535.41 81.11 L535.51 80.64 L535.60 80.16 L535.70 79.69 L535.79 79.22 L535.88 78.74 L535.98 78.27 L536.07 77.80 L536.17 77.33 L536.26 76.86 L536.36 76.39 L536.45 75.92 L536.55 75.46 L536.64 74.99 L536.74 74.52 L536.83 74.05 L536.93 73.59 L537.03 73.12 L537.12 72.65 L537.22 72.19 L537.31 71.72 L537.41 71.26 L537.51 70.79 L537.60 70.32 L537.70 69.86 L537.80 69.39 L537.89 68.92 L537.99 68.46 L538.09 67.99 L538.19 67.52 L538.29 67.05 L538.38 66.58 L538.48 66.11 L538.58 65.64 L538.68 65.17 L538.78 64.70 L538.88 64.23 L538.98 63.76 L539.08 63.28 L539.19 62.81 L539.29 62.33 L539.39 61.85 L539.49 61.38 L539.59 60.90 L539.70 60.42 L539.80 59.94 L539.91 59.45 L540.01 58.97 L540.12 58.48 L540.22 57.99 L540.32 57.49 L540.43 56.99 L540.54 56.49 L540.64 55.98 L540.75 55.46 L540.85 54.94 L540.95 54.41 L541.06 53.88 L541.16 53.33 L541.27 52.78 L541.37 52.22 L541.47 51.65 L541.58 51.07 L541.68 50.48 L541.78 49.88 L541.88 49.27 L541.98 48.65 L542.09 48.03 L542.19 47.41 L542.30 46.79 L542.42 46.18 L542.55 45.58 L542.69 45.00 L542.84 44.45 L543.00 43.92 L543.18 43.42 L543.37 42.96 L543.58 42.54 L543.81 42.16 L544.06 41.83 L544.34 41.55 L544.62 41.32 L544.92 41.15 L545.23 41.03 L545.54 40.97 L545.85 40.97 L546.15 41.02 L546.45 41.14 L546.74 41.32 L547.00 41.56 L547.25 41.87 L547.48 42.25 L547.69 42.68 L547.87 43.17 L548.04 43.70 L548.18 44.27 L548.32 44.88 L548.44 45.52 L548.55 46.17 L548.65 46.84 L548.74 47.52 L548.82 48.19 L548.90 48.86 L548.98 49.52 L549.06 50.16 L549.14 50.77 L549.22 51.36 L549.30 51.93 L549.38 52.48 L549.46 53.01 L549.54 53.52 L549.63 54.02 L549.72 54.50 L549.80 54.97 L549.89 55.43 L549.98 55.88 L550.07 56.33 L550.16 56.77 L550.26 57.21 L550.35 57.64 L550.45 58.08 L550.55 58.51 L550.65 58.96 L550.75 59.40 L550.86 59.86 L550.96 60.32 L551.07 60.79 L551.18 61.27 L551.29 61.75 L551.40 62.24 L551.51 62.74 L551.62 63.24 L551.72 63.74 L551.83 64.25 L551.93 64.76 L552.04 65.27 L552.14 65.77 L552.23 66.28 L552.33 66.79 L552.42 67.29 L552.50 67.80 L552.59 68.30 L552.67 68.80 L552.75 69.30 L552.82 69.80 L552.89 70.30 L552.96 70.80 L553.03 71.30 L553.10 71.79 L553.16 72.29 L553.23 72.78 L553.29 73.28 L553.34 73.77 L553.40 74.26 L553.46 74.75 L553.51 75.24 L553.56 75.74 L553.61 76.23 L553.66 76.72 L553.71 77.21 L553.76 77.70 L553.81 78.19 L553.85 78.68 L553.90 79.17 L553.95 79.65 L553.99 80.14 L554.04 80.63 L554.08 81.12 L554.12 81.61 L554.17 82.10 L554.21 82.59 L554.26 83.08 L554.30 83.58 L554.35 84.07 L554.40 84.56 L554.44 85.05 L554.49 85.54 L554.54 86.04 L554.59 86.53 L554.64 87.03 L554.69 87.52 L554.74 88.02 L554.80 88.51 L554.85 89.01 L554.91 89.51 L554.96 90.01 L555.02 90.51 L555.08 91.00 L555.13 91.50 L555.19 92.00 L555.25 92.50 L555.31 93.01 L555.37 93.51 L555.43 94.01 L555.50 94.51 L555.56 95.01 L555.62 95.52 L555.68 96.02 L555.75 96.52 L555.81 97.03 L555.88 97.53 L555.94 98.03 L556.01 98.54 L556.07 99.04 L556.14 99.55 L556.20 100.05 L556.27 100.56 L556.33 101.06 L556.40 101.57 L556.47 102.08 L556.54 102.58 L556.60 103.09 L556.67 103.59 L556.74 104.10 L556.80 104.61 L556.87 105.11 L556.94 105.62 L557.01 106.12 L557.07 106.63 L557.14 107.14 L557.21 107.64 L557.28 108.15 L557.34 108.65 L557.41 109.16 L557.47 109.66 L557.54 110.17 L557.61 110.67 L557.67 111.18 L557.74 111.68 L557.80 112.19 L557.87 112.69 L557.93 113.20 L558.00 113.70 L558.06 114.21 L558.12 114.71 L558.18 115.21 L558.25 115.71 L558.31 116.22 L558.37 116.72 L558.43 117.22 L558.49 117.72 L558.55 118.22 L558.61 118.72 L558.66 119.22 L558.72 119.72 L558.78 120.22 L558.83 120.72 L558.89 121.22 L558.94 121.72 L558.99 122.21 L559.05 122.71 L559.10 123.20 L559.15 123.70 L559.20 124.19 L559.24 124.69 L559.29 125.18 L559.34 125.67 L559.38 126.17 L559.43 126.66 L559.47 127.15 L559.51 127.64 L559.55 128.13 L559.59 128.62 L559.63 129.10 L559.67 129.59 L559.71 130.08 L559.74 130.56 L559.78 131.05 L559.81 131.53 L559.85 132.02 L559.88 132.50 L559.91 132.98 L559.95 133.47 L559.98 133.95 L560.01 134.43 L560.05 134.92 L560.08 135.40 L560.11 135.88 L560.15 136.36 L560.18 136.85 L560.22 137.33 L560.25 137.81 L560.29 138.29 L560.33 138.78 L560.37 139.26 L560.41 139.75 L560.45 140.23 L560.49 140.71 L560.53 141.20 L560.58 141.68 L560.62 142.17 L560.67 142.66 L560.72 143.15 L560.77 143.63 L560.82 144.12 L560.88 144.61 L560.94 145.10 L561.00 145.59 L561.06 146.09 L561.12 146.58 L561.19 147.07 L561.26 147.57 L561.33 148.07 L561.41 148.56 L561.48 149.06 L561.56 149.56 L561.65 150.06 L561.73 150.57 L561.82 151.07 L561.92 151.58 L562.02 152.08 L562.12 152.59 L562.22 153.10 L562.33 153.61 L562.44 154.13 L562.56 154.64 L562.68 155.16 L562.80 155.68 L562.93 156.20 L563.06 156.72 L563.20 157.25 L563.34 157.77 L563.49 158.30 L563.64 158.83 L563.79 159.37 L563.95 159.90 L564.12 160.44 L564.29 160.98 L564.47 161.52 L564.65 162.07 L564.83 162.61 L565.03 163.16 L565.22 163.71 L565.43 164.25 L565.63 164.79 L565.85 165.32 L566.06 165.84 L566.28 166.34 L566.51 166.83 L566.74 167.30 L566.97 167.75 L567.21 168.18 L567.45 168.57 L567.70 168.95 L567.95 169.29 L568.20 169.59 L568.46 169.86 L568.71 170.09 L568.97 170.28 L569.24 170.43 L569.51 170.53 L569.77 170.58 L570.05 170.59 L570.32 170.53 L570.60 170.42 L570.87 170.26 L571.15 170.03 L571.43 169.74 L571.71 169.41 L572.00 169.02 L572.28 168.59 L572.56 168.12 L572.84 167.62 L573.12 167.09 L573.40 166.54 L573.68 165.97 L573.95 165.38 L574.22 164.79 L574.49 164.19 L574.76 163.59 L575.02 163.00 L575.27 162.42 L575.53 161.86 L575.77 161.31 L576.01 160.79 L576.25 160.28 L576.48 159.80 L576.71 159.33 L576.93 158.88 L577.14 158.44 L577.36 158.01 L577.57 157.60 L577.77 157.19 L577.97 156.80 L578.17 156.41 L578.37 156.02 L578.56 155.64 L578.75 155.26 L578.93 154.88 L579.12 154.50 L579.30 154.12 L579.48 153.74 L579.66 153.35 L579.83 152.95 L580.00 152.55 L580.18 152.14 L580.35 151.71 L580.52 151.28 L580.69 150.83 L580.86 150.37 L581.02 149.90 L581.19 149.42 L581.36 148.93 L581.53 148.44 L581.71 147.93 L581.88 147.42 L582.05 146.91 L582.23 146.39 L582.41 145.87 L582.59 145.35 L582.78 144.82 L582.97 144.30 L583.17 143.77 L583.36 143.25 L583.57 142.73 L583.78 142.21 L583.99 141.69 L584.21 141.18 L584.43 140.68 L584.67 140.18 L584.90 139.69 L585.15 139.21 L585.40 138.73 L585.66 138.27 L585.93 137.82 L586.21 137.38 L586.50 136.95 L586.79 136.54 L587.10 136.14 L587.41 135.76 L587.73 135.39 L588.07 135.04 L588.41 134.71 L588.77 134.39 L589.14 134.10 L589.52 133.83 L589.91 133.58 L590.32 133.35 L590.74 133.15 L591.17 132.97 L591.61 132.81 L592.07 132.68 L592.53 132.57 L593.01 132.47 L593.49 132.39 L593.98 132.33 L594.48 132.28 L594.98 132.23 L595.48 132.20 L595.99 132.17 L596.49 132.14 L596.99 132.12 L597.50 132.09 L597.99 132.06 L598.49 132.03 L598.97 131.98 L599.45 131.93 L599.92 131.87 L600.38 131.79 L600.83 131.70 L601.27 131.59 L601.69 131.45 L602.10 131.30 L602.49 131.12 L602.86 130.92 L603.21 130.69 L603.55 130.43 L603.87 130.15 L604.18 129.84 L604.47 129.52 L604.74 129.17 L605.00 128.80 L605.25 128.42 L605.49 128.01 L605.71 127.60 L605.93 127.17 L606.14 126.72 L606.33 126.26 L606.52 125.80 L606.70 125.32 L606.88 124.84 L607.05 124.35 L607.21 123.86 L607.37 123.36 L607.53 122.86 L607.68 122.36 L607.84 121.86 L607.99 121.36 L608.14 120.86 L608.29 120.37 L608.44 119.88 L608.60 119.40 L608.67 119.90 L608.74 120.39 L608.80 120.89 L608.87 121.39 L608.93 121.89 L608.99 122.39 L609.05 122.89 L609.11 123.38 L609.17 123.88 L609.22 124.38 L609.27 124.88 L609.33 125.38 L609.38 125.88 L609.43 126.38 L609.47 126.88 L609.52 127.38 L609.56 127.88 L609.61 128.38 L609.65 128.88 L609.69 129.39 L609.73 129.89 L609.77 130.39 L609.81 130.89 L609.84 131.39 L609.88 131.89 L609.91 132.40 L609.94 132.90 L609.98 133.40 L610.01 133.90 L610.04 134.41 L610.06 134.91 L610.09 135.41 L610.12 135.91 L610.14 136.42 L610.17 136.92 L610.19 137.42 L610.21 137.93 L610.23 138.43 L610.26 138.94 L610.28 139.44 L610.29 139.94 L610.31 140.45 L610.33 140.95 L610.35 141.46 L610.36 141.96 L610.38 142.47 L610.39 142.97 L610.41 143.47 L610.42 143.98 L610.43 144.48 L610.45 144.99 L610.46 145.49 L610.47 146.00 L610.48 146.50 L610.49 147.01 L610.50 147.52 L610.51 148.02 L610.52 148.53 L610.53 149.03 L610.53 149.54 L610.54 150.04 L610.55 150.55 L610.56 151.05 L610.56 151.56 L610.57 152.07 L610.57 152.57 L610.58 153.08 L610.59 153.58 L610.59 154.09 L610.60 154.60 L610.60 155.10 L610.61 155.61 L610.61 156.11 L610.62 156.62 L610.62 157.13 L610.63 157.63 L610.63 158.14 L610.64 158.65 L610.64 159.15 L610.65 159.66 L610.65 160.16 L610.66 160.67 L610.66 161.18 L610.67 161.68 L610.68 162.19 L610.68 162.69 L610.69 163.20 L610.69 163.71 L610.70 164.21 L610.71 164.72 L610.72 165.22 L610.72 165.73 L610.73 166.24 L610.74 166.74 L610.75 167.25 L610.76 167.75 L610.77 168.26 L610.78 168.76 L610.79 169.27 L610.80 169.78 L610.81 170.28 L610.82 170.79 L610.84 171.29 L610.85 171.80 L610.87 172.30 L610.88 172.81 L610.90 173.31 L610.91 173.82 L610.93 174.32 L610.95 174.83 L610.97 175.33 L610.99 175.84 L611.01 176.34 L611.03 176.84 L611.05 177.35 L611.07 177.85 L611.10 178.36 L611.12 178.86 L611.15 179.36 L611.17 179.87 L611.20 180.37 L611.23 180.87 L611.26 181.38 L611.29 181.88 L611.32 182.38 L611.35 182.89 L611.39 183.39 L611.42 183.89 L611.46 184.40 L611.50 184.90 L611.54 185.40 L611.58 185.90 L611.62 186.40 L611.66 186.91 L611.71 187.41 L611.75 187.91 L611.80 188.41 L611.85 188.91 L611.90 189.41 L611.95 189.91 L612.00 190.41 L612.05 190.91 L612.11 191.41 L612.17 191.91 L612.22 192.41 L612.28 192.91 L612.35 193.41 L612.41 193.91 L612.47 194.41 L612.54 194.91 L612.61 195.41 L612.68 195.91 L612.75 196.40 L612.82 196.90 L612.90 197.40 L613.19 197.02 L613.48 196.64 L613.77 196.26 L614.05 195.88 L614.34 195.49 L614.62 195.10 L614.90 194.70 L615.18 194.31 L615.46 193.91 L615.74 193.51 L616.02 193.10 L616.30 192.70 L616.57 192.29 L616.85 191.88 L617.12 191.47 L617.39 191.05 L617.66 190.63 L617.94 190.22 L618.21 189.80 L618.48 189.37 L618.75 188.95 L619.01 188.52 L619.28 188.10 L619.55 187.67 L619.82 187.24 L620.08 186.80 L620.35 186.37 L620.61 185.94 L620.88 185.50 L621.14 185.06 L621.41 184.63 L621.67 184.19 L621.94 183.75 L622.20 183.30 L622.46 182.86 L622.73 182.42 L622.99 181.97 L623.25 181.53 L623.52 181.09 L623.78 180.64 L624.04 180.19 L624.31 179.75 L624.57 179.30 L624.84 178.85 L625.10 178.41 L625.36 177.96 L625.63 177.51 L625.89 177.06 L626.16 176.61 L626.42 176.17 L626.69 175.72 L626.96 175.27 L627.22 174.82 L627.49 174.38 L627.76 173.93 L628.03 173.48 L628.30 173.04 L628.57 172.59 L628.84 172.15 L629.11 171.70 L629.38 171.26 L629.66 170.82 L629.93 170.38 L630.20 169.94 L630.48 169.50 L630.76 169.06 L631.03 168.62 L631.31 168.19 L631.59 167.75 L631.87 167.32 L632.16 166.89 L632.44 166.46 L632.73 166.03 L633.01 165.60 L633.30 165.18 L633.59 164.75 L633.88 164.33 L634.17 163.91 L634.46 163.49 L634.76 163.08 L635.05 162.66 L635.35 162.25 L635.65 161.84 L635.95 161.43 L636.25 161.03 L636.56 160.62 L636.86 160.22 L637.17 159.82 L637.48 159.43 L637.79 159.03 L638.10 158.64 L638.42 158.25 L638.74 157.87 L639.06 157.49 L639.38 157.11 L639.70 156.73 L640.03 156.36 L640.35 155.99 L640.68 155.62 L641.02 155.26 L641.35 154.90 L641.69 154.54 L642.03 154.19 L642.37 153.84 L642.71 153.49 L643.06 153.15 L643.41 152.81 L643.76 152.47 L644.11 152.14 L644.47 151.81 L644.83 151.49 L645.19 151.17 L645.55 150.85 L645.92 150.54 L646.29 150.23 L646.66 149.93 L647.04 149.63 L647.42 149.33 L647.80 149.04 L648.18 148.76 L648.57 148.48 L648.96 148.20 L649.35 147.93 L649.75 147.66 L650.15 147.39 L650.55 147.13 L650.95 146.88 L651.36 146.62 L651.77 146.38 L652.18 146.13 L652.59 145.89 L653.01 145.65 L653.43 145.42 L653.85 145.19 L654.27 144.97 L654.70 144.75 L655.13 144.53 L655.56 144.32 L655.99 144.11 L656.43 143.90 L656.87 143.70 L657.31 143.50 L657.75 143.31 L658.19 143.12 L658.64 142.93 L659.09 142.75 L659.54 142.57 L659.99 142.39 L660.45 142.22 L660.90 142.04 L661.36 141.88 L661.82 141.71 L662.28 141.55 L662.75 141.40 L663.21 141.24 L663.68 141.09 L664.15 140.94 L664.62 140.80 L665.10 140.66 L665.57 140.52 L666.05 140.38 L666.53 140.25 L667.01 140.12 L667.49 140.00 L667.97 139.87 L668.45 139.75 L668.94 139.63 L669.43 139.52 L669.91 139.41 L670.40 139.30 L670.90 139.19 L671.39 139.08 L671.88 138.98 L672.38 138.88 L672.87 138.79 L673.37 138.69 L673.87 138.60 L674.37 138.51 L674.87 138.42 L675.37 138.34 L675.87 138.26 L676.38 138.18 L676.88 138.10 L677.39 138.02 L677.90 137.95 L678.40 137.88 L678.91 137.81 L679.42 137.75 L679.93 137.68 L680.44 137.62 L680.95 137.56 L681.47 137.50 L681.98 137.44 L682.49 137.39 L683.01 137.34 L683.52 137.28 L684.04 137.24 L684.55 137.19 L685.07 137.14 L685.59 137.10 L686.10 137.06 L686.62 137.02 L687.14 136.98 L687.66 136.94 L688.18 136.90 L688.70 136.87 L689.21 136.84 L689.73 136.81 L690.25 136.78 L690.77 136.75 L691.29 136.72 L691.81 136.70 L692.33 136.67 L692.85 136.65 L693.37 136.63 L693.89 136.60 L694.41 136.58 L694.93 136.57 L695.45 136.55 L695.97 136.53 L696.49 136.52 L697.01 136.50 L697.53 136.49 L698.05 136.48 L698.57 136.47 L699.09 136.45 L699.61 136.44 L700.12 136.44 L700.64 136.43 L701.16 136.42 L701.67 136.41 L702.19 136.41 L702.71 136.40 L703.22 136.40 L703.73 136.39 L704.25 136.39 L704.76 136.38 L705.27 136.38 L705.78 136.38 L706.29 136.38 L706.80 136.37 L707.31 136.37 L707.82 136.37 L708.33 136.37 L708.84 136.37 L709.34 136.37 L709.85 136.37 L710.35 136.37 L710.85 136.37 L711.35 136.37 L711.85 136.37 L712.35 136.37 L712.85 136.37 L713.35 136.37 L713.85 136.37 L714.34 136.37 L714.83 136.37 L715.33 136.37 L715.82 136.37 L716.31 136.36 L716.79 136.36 L717.28 136.36 L717.77 136.36 L718.25 136.36 L718.73 136.35 L719.21 136.35 L719.69 136.35 L720.17 136.34 L720.65 136.34 L721.12 136.33 L721.59 136.32 L722.06 136.32 L722.53 136.31 L723.00 136.30" stroke="#000" stroke-width="2.5"/>
<path d="M424.00 135.60 L460.00 135.50 L460.54 135.45 L461.08 135.40 L461.61 135.35 L462.14 135.31 L462.67 135.27 L463.19 135.23 L463.71 135.20 L464.23 135.17 L464.74 135.14 L465.25 135.11 L465.76 135.08 L466.27 135.06 L466.77 135.04 L467.27 135.02 L467.77 135.01 L468.27 134.99 L468.76 134.98 L469.26 134.97 L469.75 134.96 L470.24 134.96 L470.72 134.95 L471.21 134.95 L471.69 134.95 L472.18 134.95 L472.66 134.95 L473.14 134.95 L473.62 134.96 L474.10 134.96 L474.58 134.97 L475.06 134.97 L475.54 134.98 L476.02 134.99 L476.49 135.00 L476.97 135.01 L477.45 135.02 L477.93 135.03 L478.41 135.05 L478.89 135.06 L479.37 135.07 L479.85 135.08 L480.33 135.10 L480.81 135.11 L481.29 135.13 L481.77 135.14 L482.26 135.15 L482.75 135.17 L483.23 135.18 L483.72 135.19 L484.21 135.21 L484.71 135.22 L485.20 135.23 L485.70 135.24 L486.20 135.25 L486.70 135.26 L487.20 135.27 L487.71 135.28 L488.22 135.29 L488.73 135.29 L489.24 135.30 L489.75 135.30 L490.27 135.30 L490.79 135.31 L491.30 135.30 L491.82 135.30 L492.34 135.30 L492.87 135.29 L493.39 135.28 L493.91 135.28 L494.44 135.26 L494.96 135.25 L495.49 135.23 L496.01 135.21 L496.54 135.19 L497.07 135.17 L497.59 135.14 L498.12 135.11 L498.64 135.08 L499.17 135.04 L499.69 135.01 L500.22 134.96 L500.74 134.92 L501.26 134.87 L501.78 134.82 L502.30 134.76 L502.82 134.70 L503.34 134.64 L503.86 134.58 L504.37 134.51 L504.88 134.43 L505.39 134.35 L505.90 134.27 L506.41 134.18 L506.91 134.09 L507.42 133.99 L507.92 133.89 L508.41 133.79 L508.91 133.68 L509.40 133.56 L509.89 133.44 L510.37 133.32 L510.85 133.19 L511.33 133.05 L511.81 132.91 L512.28 132.76 L512.75 132.61 L513.21 132.45 L513.67 132.29 L514.13 132.12 L514.58 131.94 L515.03 131.76 L515.47 131.58 L515.91 131.38 L516.35 131.18 L516.78 130.98 L517.20 130.76 L517.62 130.54 L518.03 130.32 L518.44 130.08 L518.85 129.84 L519.25 129.60 L519.64 129.34 L520.02 129.08 L520.41 128.81 L520.78 128.53 L521.15 128.25 L521.51 127.96 L521.87 127.66 L522.22 127.35 L522.56 127.04 L522.90 126.72 L523.23 126.39 L523.55 126.05 L523.87 125.71 L524.18 125.36 L524.48 125.00 L524.78 124.63 L525.08 124.26 L525.36 123.88 L525.65 123.50 L525.92 123.11 L526.19 122.71 L526.46 122.31 L526.72 121.90 L526.97 121.49 L527.22 121.07 L527.47 120.64 L527.71 120.21 L527.94 119.78 L528.17 119.34 L528.40 118.90 L528.62 118.45 L528.83 118.00 L529.05 117.54 L529.25 117.08 L529.46 116.62 L529.65 116.15 L529.85 115.68 L530.04 115.20 L530.23 114.72 L530.41 114.24 L530.59 113.76 L530.77 113.27 L530.94 112.78 L531.11 112.29 L531.27 111.79 L531.43 111.30 L531.59 110.80 L531.75 110.30 L531.90 109.80 L532.05 109.29 L532.20 108.79 L532.34 108.28 L532.49 107.78 L532.62 107.27 L532.76 106.76 L532.90 106.25 L533.03 105.74 L533.16 105.23 L533.29 104.72 L533.41 104.21 L533.54 103.70 L533.66 103.19 L533.78 102.68 L533.90 102.17 L534.02 101.66 L534.13 101.16 L534.25 100.65 L534.36 100.14 L534.47 99.64 L534.58 99.13 L534.69 98.63 L534.80 98.13 L534.90 97.62 L535.01 97.12 L535.11 96.62 L535.21 96.12 L535.31 95.62 L535.41 95.12 L535.51 94.62 L535.60 94.12 L535.70 93.62 L535.79 93.12 L535.89 92.63 L535.98 92.13 L536.07 91.63 L536.16 91.14 L536.25 90.64 L536.33 90.15 L536.42 89.65 L536.51 89.16 L536.59 88.67 L536.68 88.18 L536.76 87.68 L536.84 87.19 L536.92 86.70 L537.00 86.21 L537.08 85.72 L537.16 85.23 L537.24 84.74 L537.32 84.26 L537.40 83.77 L537.47 83.28 L537.55 82.79 L537.62 82.31 L537.70 81.82 L537.77 81.34 L537.85 80.85 L537.92 80.37 L537.99 79.88 L538.07 79.40 L538.14 78.91 L538.21 78.43 L538.28 77.95 L538.35 77.47 L538.42 76.99 L538.49 76.51 L538.56 76.02 L538.63 75.54 L538.70 75.06 L538.77 74.58 L538.84 74.11 L538.91 73.63 L538.98 73.15 L539.05 72.67 L539.12 72.19 L539.19 71.72 L539.26 71.24 L539.33 70.76 L539.40 70.29 L539.47 69.81 L539.54 69.34 L539.61 68.86 L539.68 68.39 L539.75 67.91 L539.82 67.44 L539.89 66.96 L539.96 66.49 L540.03 66.02 L540.10 65.54 L540.17 65.07 L540.25 64.60 L540.32 64.12 L540.39 63.65 L540.47 63.17 L540.55 62.70 L540.62 62.22 L540.70 61.74 L540.78 61.25 L540.86 60.77 L540.95 60.28 L541.03 59.79 L541.12 59.30 L541.21 58.80 L541.30 58.30 L541.40 57.79 L541.49 57.28 L541.59 56.77 L541.70 56.25 L541.80 55.73 L541.91 55.20 L542.02 54.67 L542.13 54.13 L542.25 53.58 L542.37 53.03 L542.50 52.47 L542.63 51.90 L542.76 51.33 L542.89 50.75 L543.04 50.16 L543.18 49.56 L543.33 48.96 L543.48 48.35 L543.64 47.74 L543.80 47.13 L543.97 46.52 L544.14 45.93 L544.31 45.34 L544.49 44.76 L544.67 44.20 L544.85 43.67 L545.04 43.15 L545.23 42.66 L545.43 42.20 L545.63 41.77 L545.83 41.38 L546.04 41.03 L546.25 40.71 L546.46 40.44 L546.67 40.22 L546.89 40.05 L547.12 39.94 L547.34 39.88 L547.57 39.88 L547.80 39.94 L548.03 40.06 L548.27 40.23 L548.50 40.46 L548.74 40.73 L548.97 41.05 L549.21 41.41 L549.44 41.81 L549.67 42.24 L549.90 42.70 L550.12 43.19 L550.35 43.71 L550.56 44.24 L550.78 44.80 L550.98 45.37 L551.18 45.95 L551.38 46.54 L551.57 47.13 L551.75 47.73 L551.92 48.32 L552.08 48.91 L552.23 49.49 L552.37 50.06 L552.50 50.62 L552.63 51.16 L552.74 51.70 L552.85 52.22 L552.95 52.74 L553.05 53.26 L553.14 53.77 L553.23 54.27 L553.32 54.77 L553.41 55.27 L553.49 55.77 L553.57 56.27 L553.65 56.77 L553.73 57.27 L553.81 57.77 L553.89 58.26 L553.97 58.76 L554.05 59.25 L554.12 59.75 L554.20 60.24 L554.27 60.74 L554.34 61.23 L554.42 61.72 L554.49 62.21 L554.56 62.71 L554.63 63.20 L554.70 63.69 L554.77 64.18 L554.83 64.67 L554.90 65.16 L554.97 65.65 L555.03 66.14 L555.10 66.63 L555.16 67.12 L555.23 67.61 L555.29 68.10 L555.35 68.59 L555.42 69.07 L555.48 69.56 L555.54 70.05 L555.60 70.54 L555.66 71.03 L555.72 71.52 L555.78 72.00 L555.84 72.49 L555.90 72.98 L555.95 73.47 L556.01 73.96 L556.07 74.45 L556.13 74.94 L556.18 75.43 L556.24 75.91 L556.30 76.40 L556.36 76.89 L556.41 77.38 L556.47 77.87 L556.52 78.36 L556.58 78.86 L556.64 79.35 L556.69 79.84 L556.75 80.33 L556.80 80.82 L556.86 81.31 L556.91 81.81 L556.97 82.30 L557.02 82.80 L557.08 83.29 L557.14 83.79 L557.19 84.28 L557.25 84.78 L557.30 85.28 L557.36 85.77 L557.42 86.27 L557.47 86.77 L557.53 87.27 L557.59 87.77 L557.64 88.27 L557.70 88.77 L557.76 89.27 L557.82 89.78 L557.87 90.28 L557.93 90.78 L557.99 91.29 L558.05 91.79 L558.11 92.30 L558.17 92.80 L558.22 93.31 L558.28 93.81 L558.34 94.32 L558.40 94.82 L558.46 95.33 L558.52 95.84 L558.58 96.34 L558.64 96.85 L558.70 97.36 L558.76 97.87 L558.82 98.37 L558.88 98.88 L558.94 99.39 L559.00 99.90 L559.06 100.41 L559.12 100.91 L559.18 101.42 L559.24 101.93 L559.30 102.44 L559.36 102.95 L559.42 103.45 L559.48 103.96 L559.54 104.47 L559.60 104.98 L559.66 105.48 L559.72 105.99 L559.78 106.50 L559.84 107.00 L559.91 107.51 L559.97 108.01 L560.03 108.52 L560.09 109.03 L560.15 109.53 L560.21 110.04 L560.27 110.54 L560.33 111.04 L560.39 111.55 L560.45 112.05 L560.52 112.55 L560.58 113.05 L560.64 113.55 L560.70 114.05 L560.76 114.55 L560.82 115.05 L560.88 115.55 L560.94 116.05 L561.00 116.55 L561.06 117.05 L561.12 117.54 L561.18 118.04 L561.24 118.53 L561.31 119.03 L561.37 119.52 L561.43 120.01 L561.49 120.50 L561.55 120.99 L561.61 121.48 L561.67 121.97 L561.73 122.46 L561.79 122.95 L561.85 123.43 L561.91 123.92 L561.97 124.40 L562.03 124.88 L562.08 125.37 L562.14 125.85 L562.20 126.33 L562.26 126.80 L562.32 127.28 L562.38 127.76 L562.44 128.23 L562.50 128.71 L562.56 129.18 L562.62 129.66 L562.68 130.13 L562.74 130.61 L562.80 131.08 L562.86 131.55 L562.92 132.03 L562.98 132.50 L563.04 132.97 L563.10 133.45 L563.17 133.92 L563.23 134.40 L563.29 134.88 L563.36 135.35 L563.42 135.83 L563.49 136.31 L563.56 136.79 L563.62 137.27 L563.69 137.75 L563.76 138.24 L563.83 138.72 L563.91 139.21 L563.98 139.70 L564.05 140.19 L564.13 140.68 L564.20 141.18 L564.28 141.67 L564.36 142.17 L564.44 142.67 L564.52 143.18 L564.60 143.69 L564.69 144.19 L564.77 144.71 L564.86 145.22 L564.95 145.74 L565.04 146.26 L565.13 146.79 L565.22 147.31 L565.32 147.84 L565.41 148.38 L565.51 148.92 L565.61 149.46 L565.72 150.00 L565.82 150.55 L565.93 151.11 L566.03 151.67 L566.15 152.23 L566.26 152.80 L566.37 153.36 L566.49 153.94 L566.61 154.51 L566.74 155.08 L566.87 155.65 L567.00 156.22 L567.14 156.78 L567.29 157.34 L567.44 157.89 L567.60 158.43 L567.76 158.96 L567.93 159.49 L568.11 160.00 L568.30 160.49 L568.50 160.97 L568.71 161.44 L568.93 161.89 L569.15 162.31 L569.39 162.72 L569.64 163.11 L569.90 163.48 L570.17 163.82 L570.46 164.14 L570.76 164.43 L571.07 164.69 L571.39 164.92 L571.73 165.11 L572.08 165.25 L572.43 165.35 L572.80 165.39 L573.18 165.38 L573.57 165.31 L573.96 165.19 L574.35 165.03 L574.74 164.83 L575.14 164.59 L575.52 164.31 L575.91 164.00 L576.28 163.67 L576.65 163.31 L577.01 162.93 L577.35 162.53 L577.68 162.12 L577.99 161.69 L578.29 161.25 L578.58 160.80 L578.86 160.33 L579.13 159.86 L579.40 159.38 L579.65 158.89 L579.90 158.40 L580.14 157.90 L580.37 157.40 L580.60 156.90 L580.83 156.39 L581.05 155.89 L581.28 155.38 L581.50 154.88 L581.72 154.38 L581.94 153.89 L582.16 153.40 L582.37 152.91 L582.59 152.43 L582.82 151.95 L583.04 151.48 L583.26 151.01 L583.48 150.54 L583.71 150.08 L583.93 149.62 L584.16 149.16 L584.39 148.71 L584.62 148.26 L584.86 147.82 L585.09 147.38 L585.33 146.95 L585.57 146.52 L585.82 146.09 L586.07 145.67 L586.32 145.25 L586.57 144.84 L586.83 144.43 L587.09 144.03 L587.36 143.63 L587.63 143.23 L587.90 142.84 L588.18 142.46 L588.47 142.07 L588.76 141.70 L589.05 141.32 L589.36 140.96 L589.66 140.59 L589.97 140.24 L590.29 139.88 L590.62 139.53 L590.95 139.19 L591.28 138.85 L591.63 138.52 L591.98 138.19 L592.34 137.86 L592.70 137.55 L593.07 137.23 L593.45 136.92 L593.84 136.62 L594.23 136.31 L594.63 136.02 L595.03 135.72 L595.43 135.43 L595.84 135.14 L596.25 134.85 L596.67 134.56 L597.08 134.27 L597.50 133.99 L597.91 133.70 L598.33 133.42 L598.75 133.13 L599.16 132.84 L599.58 132.56 L599.99 132.27 L600.40 131.97 L600.80 131.68 L601.20 131.38 L601.60 131.08 L601.99 130.78 L602.38 130.47 L602.76 130.16 L603.13 129.84 L603.50 129.51 L603.86 129.19 L604.21 128.85 L604.55 128.51 L604.88 128.16 L605.20 127.81 L605.51 127.45 L605.81 127.08 L606.10 126.70 L606.38 126.31 L606.64 125.91 L606.89 125.51 L607.13 125.09 L607.35 124.66 L607.55 124.23 L607.74 123.78 L607.92 123.32 L608.07 122.85 L608.21 122.37 L608.34 121.87 L608.44 121.36 L608.52 120.84 L608.59 120.30 L608.63 119.75 L608.66 119.19 L608.66 118.61 L608.64 118.01 L608.60 117.40 L608.67 117.90 L608.73 118.40 L608.79 118.90 L608.85 119.40 L608.91 119.90 L608.97 120.40 L609.02 120.90 L609.08 121.40 L609.13 121.90 L609.18 122.40 L609.23 122.90 L609.28 123.40 L609.33 123.90 L609.38 124.40 L609.42 124.90 L609.47 125.40 L609.51 125.90 L609.55 126.40 L609.59 126.91 L609.63 127.41 L609.67 127.91 L609.70 128.41 L609.74 128.91 L609.77 129.42 L609.81 129.92 L609.84 130.42 L609.87 130.92 L609.90 131.43 L609.93 131.93 L609.96 132.43 L609.98 132.93 L610.01 133.44 L610.03 133.94 L610.06 134.44 L610.08 134.95 L610.10 135.45 L610.13 135.95 L610.15 136.46 L610.17 136.96 L610.19 137.47 L610.20 137.97 L610.22 138.47 L610.24 138.98 L610.26 139.48 L610.27 139.99 L610.29 140.49 L610.30 141.00 L610.32 141.50 L610.33 142.00 L610.34 142.51 L610.35 143.01 L610.36 143.52 L610.38 144.02 L610.39 144.53 L610.40 145.03 L610.41 145.54 L610.42 146.04 L610.42 146.55 L610.43 147.05 L610.44 147.56 L610.45 148.06 L610.46 148.57 L610.46 149.07 L610.47 149.58 L610.48 150.09 L610.48 150.59 L610.49 151.10 L610.50 151.60 L610.50 152.11 L610.51 152.61 L610.51 153.12 L610.52 153.62 L610.52 154.13 L610.53 154.63 L610.53 155.14 L610.54 155.65 L610.54 156.15 L610.55 156.66 L610.55 157.16 L610.56 157.67 L610.56 158.17 L610.57 158.68 L610.57 159.18 L610.58 159.69 L610.59 160.19 L610.59 160.70 L610.60 161.21 L610.60 161.71 L610.61 162.22 L610.62 162.72 L610.62 163.23 L610.63 163.73 L610.64 164.24 L610.65 164.74 L610.66 165.25 L610.67 165.75 L610.67 166.26 L610.68 166.76 L610.69 167.27 L610.70 167.77 L610.72 168.28 L610.73 168.78 L610.74 169.29 L610.75 169.79 L610.77 170.30 L610.78 170.80 L610.79 171.31 L610.81 171.81 L610.82 172.32 L610.84 172.82 L610.86 173.32 L610.88 173.83 L610.89 174.33 L610.91 174.84 L610.93 175.34 L610.95 175.84 L610.98 176.35 L611.00 176.85 L611.02 177.36 L611.05 177.86 L611.07 178.36 L611.10 178.87 L611.12 179.37 L611.15 179.87 L611.18 180.38 L611.21 180.88 L611.24 181.38 L611.27 181.88 L611.31 182.39 L611.34 182.89 L611.38 183.39 L611.41 183.89 L611.45 184.40 L611.49 184.90 L611.53 185.40 L611.57 185.90 L611.61 186.40 L611.66 186.90 L611.70 187.41 L611.75 187.91 L611.80 188.41 L611.84 188.91 L611.89 189.41 L611.95 189.91 L612.00 190.41 L612.05 190.91 L612.11 191.41 L612.17 191.91 L612.23 192.41 L612.29 192.91 L612.35 193.41 L612.41 193.91 L612.48 194.41 L612.54 194.91 L612.61 195.41 L612.68 195.91 L612.75 196.40 L612.83 196.90 L612.90 197.40 L613.19 197.02 L613.48 196.64 L613.77 196.26 L614.05 195.88 L614.34 195.49 L614.62 195.10 L614.90 194.70 L615.18 194.31 L615.46 193.91 L615.74 193.51 L616.02 193.10 L616.30 192.70 L616.57 192.29 L616.85 191.88 L617.12 191.47 L617.39 191.05 L617.66 190.63 L617.94 190.22 L618.21 189.80 L618.48 189.37 L618.75 188.95 L619.01 188.52 L619.28 188.10 L619.55 187.67 L619.82 187.24 L620.08 186.80 L620.35 186.37 L620.61 185.94 L620.88 185.50 L621.14 185.06 L621.41 184.63 L621.67 184.19 L621.94 183.75 L622.20 183.30 L622.46 182.86 L622.73 182.42 L622.99 181.97 L623.25 181.53 L623.52 181.09 L623.78 180.64 L624.04 180.19 L624.31 179.75 L624.57 179.30 L624.84 178.85 L625.10 178.41 L625.36 177.96 L625.63 177.51 L625.89 177.06 L626.16 176.61 L626.42 176.17 L626.69 175.72 L626.96 175.27 L627.22 174.82 L627.49 174.38 L627.76 173.93 L628.03 173.48 L628.30 173.04 L628.57 172.59 L628.84 172.15 L629.11 171.70 L629.38 171.26 L629.66 170.82 L629.93 170.38 L630.20 169.94 L630.48 169.50 L630.76 169.06 L631.03 168.62 L631.31 168.19 L631.59 167.75 L631.87 167.32 L632.16 166.89 L632.44 166.46 L632.73 166.03 L633.01 165.60 L633.30 165.18 L633.59 164.75 L633.88 164.33 L634.17 163.91 L634.46 163.49 L634.76 163.08 L635.05 162.66 L635.35 162.25 L635.65 161.84 L635.95 161.43 L636.25 161.03 L636.56 160.62 L636.86 160.22 L637.17 159.82 L637.48 159.43 L637.79 159.03 L638.10 158.64 L638.42 158.25 L638.74 157.87 L639.06 157.49 L639.38 157.11 L639.70 156.73 L640.03 156.36 L640.35 155.99 L640.68 155.62 L641.02 155.26 L641.35 154.90 L641.69 154.54 L642.03 154.19 L642.37 153.84 L642.71 153.49 L643.06 153.15 L643.41 152.81 L643.76 152.47 L644.11 152.14 L644.47 151.81 L644.83 151.49 L645.19 151.17 L645.55 150.85 L645.92 150.54 L646.29 150.23 L646.66 149.93 L647.04 149.63 L647.42 149.33 L647.80 149.04 L648.18 148.76 L648.57 148.48 L648.96 148.20 L649.35 147.93 L649.75 147.66 L650.15 147.39 L650.55 147.13 L650.95 146.88 L651.36 146.62 L651.77 146.38 L652.18 146.13 L652.59 145.89 L653.01 145.65 L653.43 145.42 L653.85 145.19 L654.27 144.97 L654.70 144.75 L655.13 144.53 L655.56 144.32 L655.99 144.11 L656.43 143.90 L656.87 143.70 L657.31 143.50 L657.75 143.31 L658.19 143.12 L658.64 142.93 L659.09 142.75 L659.54 142.57 L659.99 142.39 L660.45 142.22 L660.90 142.04 L661.36 141.88 L661.82 141.71 L662.28 141.55 L662.75 141.40 L663.21 141.24 L663.68 141.09 L664.15 140.94 L664.62 140.80 L665.10 140.66 L665.57 140.52 L666.05 140.38 L666.53 140.25 L667.01 140.12 L667.49 140.00 L667.97 139.87 L668.45 139.75 L668.94 139.63 L669.43 139.52 L669.91 139.41 L670.40 139.30 L670.90 139.19 L671.39 139.08 L671.88 138.98 L672.38 138.88 L672.87 138.79 L673.37 138.69 L673.87 138.60 L674.37 138.51 L674.87 138.42 L675.37 138.34 L675.87 138.26 L676.38 138.18 L676.88 138.10 L677.39 138.02 L677.90 137.95 L678.40 137.88 L678.91 137.81 L679.42 137.75 L679.93 137.68 L680.44 137.62 L680.95 137.56 L681.47 137.50 L681.98 137.44 L682.49 137.39 L683.01 137.34 L683.52 137.28 L684.04 137.24 L684.55 137.19 L685.07 137.14 L685.59 137.10 L686.10 137.06 L686.62 137.02 L687.14 136.98 L687.66 136.94 L688.18 136.90 L688.70 136.87 L689.21 136.84 L689.73 136.81 L690.25 136.78 L690.77 136.75 L691.29 136.72 L691.81 136.70 L692.33 136.67 L692.85 136.65 L693.37 136.63 L693.89 136.60 L694.41 136.58 L694.93 136.57 L695.45 136.55 L695.97 136.53 L696.49 136.52 L697.01 136.50 L697.53 136.49 L698.05 136.48 L698.57 136.47 L699.09 136.45 L699.61 136.44 L700.12 136.44 L700.64 136.43 L701.16 136.42 L701.67 136.41 L702.19 136.41 L702.71 136.40 L703.22 136.40 L703.73 136.39 L704.25 136.39 L704.76 136.38 L705.27 136.38 L705.78 136.38 L706.29 136.38 L706.80 136.37 L707.31 136.37 L707.82 136.37 L708.33 136.37 L708.84 136.37 L709.34 136.37 L709.85 136.37 L710.35 136.37 L710.85 136.37 L711.35 136.37 L711.85 136.37 L712.35 136.37 L712.85 136.37 L713.35 136.37 L713.85 136.37 L714.34 136.37 L714.83 136.37 L715.33 136.37 L715.82 136.37 L716.31 136.36 L716.79 136.36 L717.28 136.36 L717.77 136.36 L718.25 136.36 L718.73 136.35 L719.21 136.35 L719.69 136.35 L720.17 136.34 L720.65 136.34 L721.12 136.33 L721.59 136.32 L722.06 136.32 L722.53 136.31 L723.00 136.30" stroke="#ff0c1c" stroke-width="2" stroke-dasharray="3.7 3.4"/>
</g>
<g shape-rendering="crispEdges"><rect x="423" y="9" width="301" height="222" fill="none" stroke="#000" stroke-width="2"/></g>
<rect x="434.5" y="16.5" width="21" height="29" fill="#fff" stroke="#333" stroke-width="1" shape-rendering="crispEdges"/>
<text x="436.03" y="42.60" font-size="32.40" textLength="17.54" lengthAdjust="spacingAndGlyphs">b</text>
<rect x="595.2" y="22.2" width="122.9" height="37.1" fill="#000" shape-rendering="crispEdges"/>
<rect x="591.5" y="18.5" width="123.2" height="37" fill="#fff" stroke="#94a0a0" stroke-width="1" shape-rendering="crispEdges"/>
<line x1="592.3" y1="28.2" x2="627" y2="28.2" stroke="#000" stroke-width="2.5"/>
<line x1="592.4" y1="46.4" x2="626.5" y2="46.4" stroke="#ff0c1c" stroke-width="2" stroke-dasharray="4.3 2.9"/>
<text x="625.49" y="32.80" font-size="11.60" textLength="59.21" lengthAdjust="spacingAndGlyphs">Feraspin R</text>
<text x="628.93" y="51.00" font-size="11.60" textLength="83.74" lengthAdjust="spacingAndGlyphs">Feraspin XS + L</text>
<text x="540.41" y="278.00" font-size="16.00" textLength="74.97" lengthAdjust="spacingAndGlyphs">Field (mT)</text>
</svg></body></html>
